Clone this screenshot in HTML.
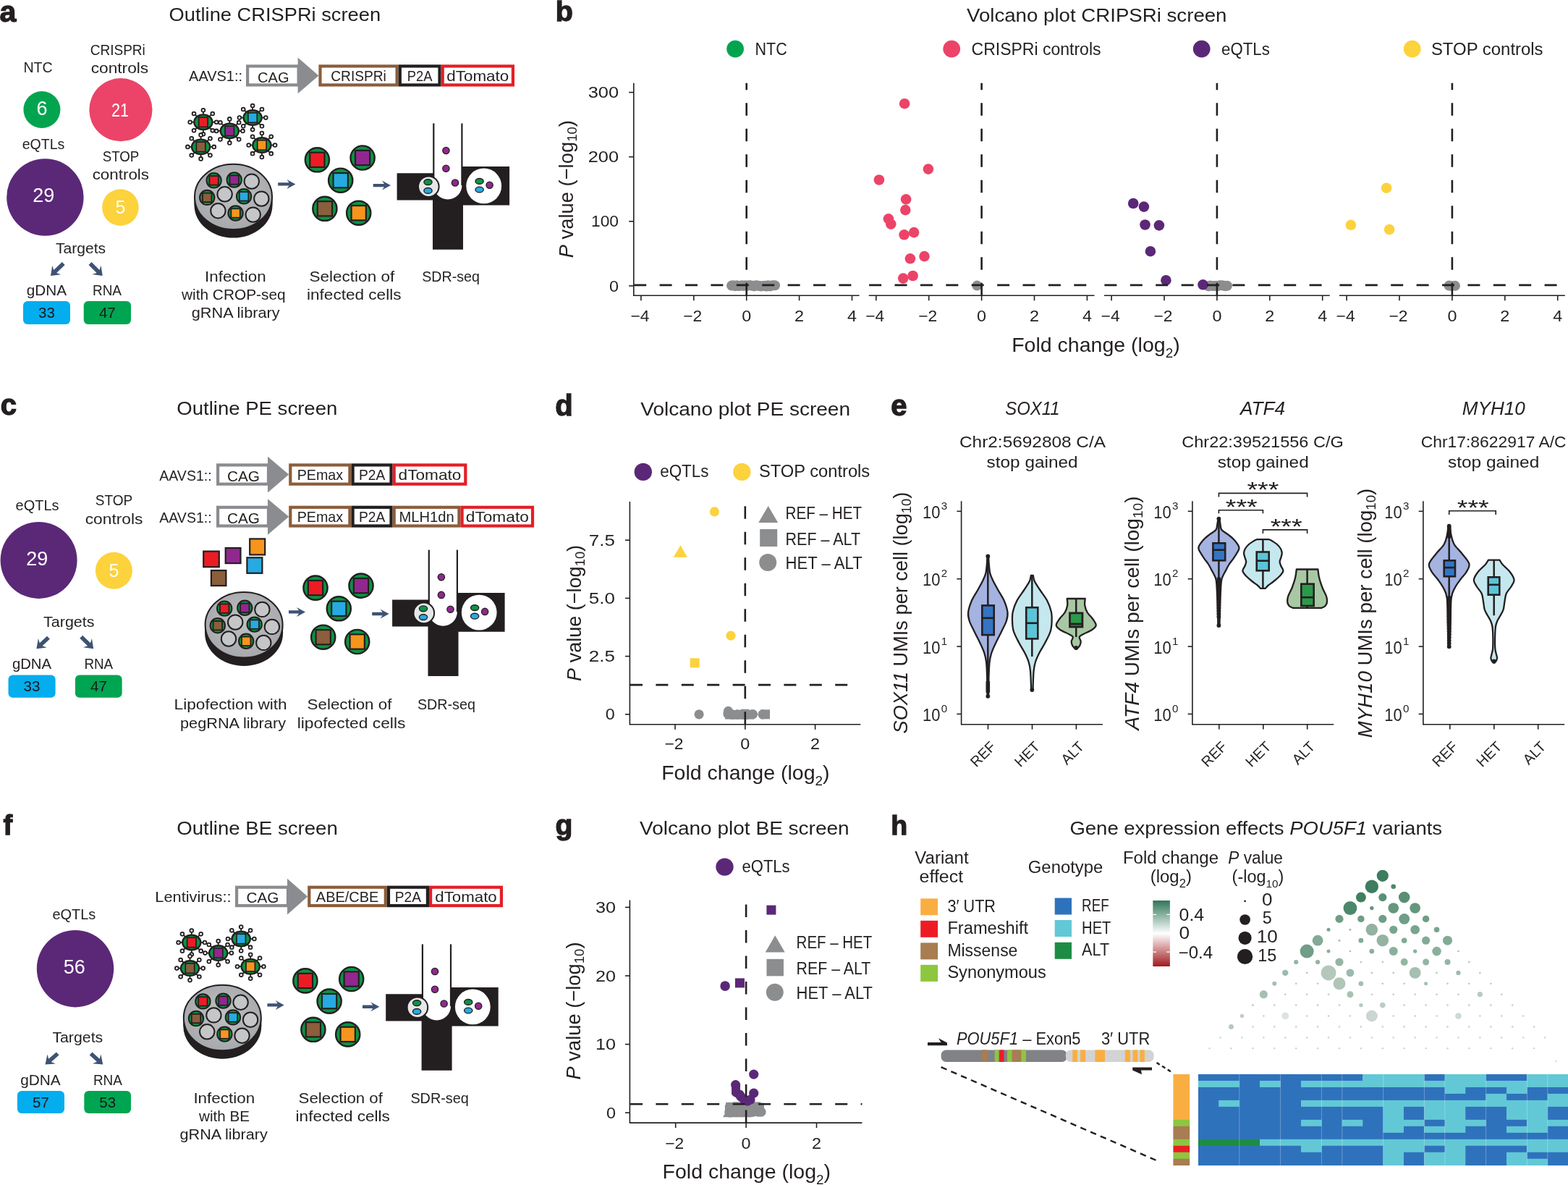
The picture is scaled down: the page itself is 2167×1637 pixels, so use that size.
<!DOCTYPE html>
<html><head><meta charset="utf-8"><title>Figure</title><style>html,body{margin:0;padding:0;background:#fff;overflow:hidden;width:2167px;height:1637px;}svg{display:block;}text{font-family:"Liberation Sans",Arial,sans-serif;}</style></head><body>
<svg width="2167" height="1637" viewBox="0 0 2167 1637" fill="#231f20">
<rect width="2167" height="1637" fill="#ffffff"/>
<defs><radialGradient id="dishg" cx="50%" cy="45%" r="60%"><stop offset="0" stop-color="#bfc1c3"/><stop offset="1" stop-color="#a4a6a9"/></radialGradient><linearGradient id="fcbar" x1="0" y1="0" x2="0" y2="1"><stop offset="0" stop-color="#2f7658"/><stop offset="0.5" stop-color="#ffffff"/><stop offset="1" stop-color="#a11b1d"/></linearGradient></defs>
<text x="-0.5" y="30" font-size="41" font-weight="bold" stroke="#231f20" stroke-width="1.3">a</text>
<text x="233.6" y="29.4" font-size="26.5" textLength="292.5" lengthAdjust="spacingAndGlyphs">Outline CRISPRi screen</text>
<text x="32.4" y="100" font-size="20.5" textLength="40.4" lengthAdjust="spacingAndGlyphs">NTC</text>
<text x="124.8" y="76.3" font-size="20.5" textLength="76" lengthAdjust="spacingAndGlyphs">CRISPRi</text>
<text x="125.7" y="100.8" font-size="20.5" textLength="79.5" lengthAdjust="spacingAndGlyphs">controls</text>
<circle cx="57.9" cy="151.5" r="25.5" fill="#03a44f"/>
<text x="57.9" y="158.9" font-size="27" text-anchor="middle" fill="#ffffff">6</text>
<circle cx="166.9" cy="151.7" r="43.6" fill="#eb4468"/>
<text x="166" y="161" font-size="26" text-anchor="middle" textLength="24" lengthAdjust="spacingAndGlyphs" fill="#ffffff">21</text>
<text x="30.7" y="205.8" font-size="20.5" textLength="58.7" lengthAdjust="spacingAndGlyphs">eQTLs</text>
<circle cx="62.4" cy="272.5" r="53.2" fill="#5b2878"/>
<text x="60.2" y="279.1" font-size="27.5" text-anchor="middle" textLength="30" lengthAdjust="spacingAndGlyphs" fill="#ffffff">29</text>
<text x="141.8" y="222.9" font-size="20.5" textLength="50.5" lengthAdjust="spacingAndGlyphs">STOP</text>
<text x="127.7" y="247.5" font-size="20.5" textLength="78.3" lengthAdjust="spacingAndGlyphs">controls</text>
<circle cx="166.4" cy="286.5" r="25.3" fill="#fcd23d"/>
<text x="166.4" y="295" font-size="25" text-anchor="middle" fill="#ffffff">5</text>
<text x="77" y="349.8" font-size="20.5" textLength="69" lengthAdjust="spacingAndGlyphs">Targets</text>
<polygon points="85.76,361.98 74.28,373.01 72.34,366.83 70,381 84.25,379.24 78.16,377.04 89.64,366.02" fill="#3e5273" />
<polygon points="122.53,365.99 133.6,376.93 127.48,379.03 141.7,381 139.57,366.8 137.53,372.95 126.47,362.01" fill="#3e5273" />
<text x="36.8" y="408" font-size="20.5" textLength="55.2" lengthAdjust="spacingAndGlyphs">gDNA</text>
<text x="128" y="408" font-size="20.5" textLength="40" lengthAdjust="spacingAndGlyphs">RNA</text>
<rect x="32" y="416" width="65" height="32" fill="#03adee" rx="6"/>
<text x="64.5" y="439.3" font-size="20.5" text-anchor="middle" fill="#1a1a1a">33</text>
<rect x="115.7" y="416" width="65.3" height="32" fill="#00a551" rx="6"/>
<text x="148.3" y="439.3" font-size="20.5" text-anchor="middle" fill="#1a1a1a">47</text>
<text x="261.1" y="112" font-size="21" textLength="73.9" lengthAdjust="spacingAndGlyphs">AAVS1::</text>
<rect x="342.1" y="91.4" width="70.5" height="26" fill="#ffffff" stroke="#8a8c8f" stroke-width="4.2"/>
<polygon points="411.6,79.6 440.4,104.4 411.6,129.2" fill="#8a8c8f" />
<text x="377.8" y="113.5" font-size="21" text-anchor="middle" textLength="43.4" lengthAdjust="spacingAndGlyphs">CAG</text>
<rect x="442.5" y="91.4" width="106.1" height="26" fill="#ffffff" stroke="#8b5d3b" stroke-width="4.2"/>
<rect x="552.8" y="91.4" width="54.7" height="26" fill="#ffffff" stroke="#231f20" stroke-width="4.2"/>
<rect x="611.7" y="91.4" width="97.2" height="26" fill="#ffffff" stroke="#e41e26" stroke-width="4.2"/>
<text x="495.55" y="112" font-size="21" text-anchor="middle" textLength="76.6" lengthAdjust="spacingAndGlyphs">CRISPRi</text>
<text x="580.15" y="112" font-size="21" text-anchor="middle" textLength="34.6" lengthAdjust="spacingAndGlyphs">P2A</text>
<text x="660.3" y="112" font-size="21" text-anchor="middle" textLength="86" lengthAdjust="spacingAndGlyphs">dTomato</text>
<line x1="280.9" y1="168.7" x2="298.5" y2="168.7" stroke="#231f20" stroke-width="1.8" />
<line x1="280.9" y1="168.7" x2="293.35" y2="180.01" stroke="#231f20" stroke-width="1.8" />
<line x1="280.9" y1="168.7" x2="280.9" y2="184.7" stroke="#231f20" stroke-width="1.8" />
<line x1="280.9" y1="168.7" x2="268.45" y2="180.01" stroke="#231f20" stroke-width="1.8" />
<line x1="280.9" y1="168.7" x2="263.3" y2="168.7" stroke="#231f20" stroke-width="1.8" />
<line x1="280.9" y1="168.7" x2="268.45" y2="157.39" stroke="#231f20" stroke-width="1.8" />
<line x1="280.9" y1="168.7" x2="280.9" y2="152.7" stroke="#231f20" stroke-width="1.8" />
<line x1="280.9" y1="168.7" x2="293.35" y2="157.39" stroke="#231f20" stroke-width="1.8" />
<circle cx="299.1" cy="168.7" r="2.4" fill="#ffffff" stroke="#231f20" stroke-width="1.8"/>
<circle cx="293.77" cy="180.37" r="2.4" fill="#ffffff" stroke="#231f20" stroke-width="1.8"/>
<circle cx="280.9" cy="185.2" r="2.4" fill="#ffffff" stroke="#231f20" stroke-width="1.8"/>
<circle cx="268.03" cy="180.37" r="2.4" fill="#ffffff" stroke="#231f20" stroke-width="1.8"/>
<circle cx="262.7" cy="168.7" r="2.4" fill="#ffffff" stroke="#231f20" stroke-width="1.8"/>
<circle cx="268.03" cy="157.03" r="2.4" fill="#ffffff" stroke="#231f20" stroke-width="1.8"/>
<circle cx="280.9" cy="152.2" r="2.4" fill="#ffffff" stroke="#231f20" stroke-width="1.8"/>
<circle cx="293.77" cy="157.03" r="2.4" fill="#ffffff" stroke="#231f20" stroke-width="1.8"/>
<ellipse cx="280.9" cy="168.7" rx="12.6" ry="10.3" fill="#0b9444" stroke="#231f20" stroke-width="2.4"/>
<rect x="274.7" y="162" width="12.4" height="13.4" fill="#ec1c24" stroke="#231f20" stroke-width="1.7"/>
<line x1="317.3" y1="180.9" x2="334.9" y2="180.9" stroke="#231f20" stroke-width="1.8" />
<line x1="317.3" y1="180.9" x2="329.75" y2="192.21" stroke="#231f20" stroke-width="1.8" />
<line x1="317.3" y1="180.9" x2="317.3" y2="196.9" stroke="#231f20" stroke-width="1.8" />
<line x1="317.3" y1="180.9" x2="304.85" y2="192.21" stroke="#231f20" stroke-width="1.8" />
<line x1="317.3" y1="180.9" x2="299.7" y2="180.9" stroke="#231f20" stroke-width="1.8" />
<line x1="317.3" y1="180.9" x2="304.85" y2="169.59" stroke="#231f20" stroke-width="1.8" />
<line x1="317.3" y1="180.9" x2="317.3" y2="164.9" stroke="#231f20" stroke-width="1.8" />
<line x1="317.3" y1="180.9" x2="329.75" y2="169.59" stroke="#231f20" stroke-width="1.8" />
<circle cx="335.5" cy="180.9" r="2.4" fill="#ffffff" stroke="#231f20" stroke-width="1.8"/>
<circle cx="330.17" cy="192.57" r="2.4" fill="#ffffff" stroke="#231f20" stroke-width="1.8"/>
<circle cx="317.3" cy="197.4" r="2.4" fill="#ffffff" stroke="#231f20" stroke-width="1.8"/>
<circle cx="304.43" cy="192.57" r="2.4" fill="#ffffff" stroke="#231f20" stroke-width="1.8"/>
<circle cx="299.1" cy="180.9" r="2.4" fill="#ffffff" stroke="#231f20" stroke-width="1.8"/>
<circle cx="304.43" cy="169.23" r="2.4" fill="#ffffff" stroke="#231f20" stroke-width="1.8"/>
<circle cx="317.3" cy="164.4" r="2.4" fill="#ffffff" stroke="#231f20" stroke-width="1.8"/>
<circle cx="330.17" cy="169.23" r="2.4" fill="#ffffff" stroke="#231f20" stroke-width="1.8"/>
<ellipse cx="317.3" cy="180.9" rx="12.6" ry="10.3" fill="#0b9444" stroke="#231f20" stroke-width="2.4"/>
<rect x="311.1" y="174.2" width="12.4" height="13.4" fill="#92278f" stroke="#231f20" stroke-width="1.7"/>
<line x1="349.1" y1="162.6" x2="366.7" y2="162.6" stroke="#231f20" stroke-width="1.8" />
<line x1="349.1" y1="162.6" x2="361.55" y2="173.91" stroke="#231f20" stroke-width="1.8" />
<line x1="349.1" y1="162.6" x2="349.1" y2="178.6" stroke="#231f20" stroke-width="1.8" />
<line x1="349.1" y1="162.6" x2="336.65" y2="173.91" stroke="#231f20" stroke-width="1.8" />
<line x1="349.1" y1="162.6" x2="331.5" y2="162.6" stroke="#231f20" stroke-width="1.8" />
<line x1="349.1" y1="162.6" x2="336.65" y2="151.29" stroke="#231f20" stroke-width="1.8" />
<line x1="349.1" y1="162.6" x2="349.1" y2="146.6" stroke="#231f20" stroke-width="1.8" />
<line x1="349.1" y1="162.6" x2="361.55" y2="151.29" stroke="#231f20" stroke-width="1.8" />
<circle cx="367.3" cy="162.6" r="2.4" fill="#ffffff" stroke="#231f20" stroke-width="1.8"/>
<circle cx="361.97" cy="174.27" r="2.4" fill="#ffffff" stroke="#231f20" stroke-width="1.8"/>
<circle cx="349.1" cy="179.1" r="2.4" fill="#ffffff" stroke="#231f20" stroke-width="1.8"/>
<circle cx="336.23" cy="174.27" r="2.4" fill="#ffffff" stroke="#231f20" stroke-width="1.8"/>
<circle cx="330.9" cy="162.6" r="2.4" fill="#ffffff" stroke="#231f20" stroke-width="1.8"/>
<circle cx="336.23" cy="150.93" r="2.4" fill="#ffffff" stroke="#231f20" stroke-width="1.8"/>
<circle cx="349.1" cy="146.1" r="2.4" fill="#ffffff" stroke="#231f20" stroke-width="1.8"/>
<circle cx="361.97" cy="150.93" r="2.4" fill="#ffffff" stroke="#231f20" stroke-width="1.8"/>
<ellipse cx="349.1" cy="162.6" rx="12.6" ry="10.3" fill="#0b9444" stroke="#231f20" stroke-width="2.4"/>
<rect x="342.9" y="155.9" width="12.4" height="13.4" fill="#27aae1" stroke="#231f20" stroke-width="1.7"/>
<line x1="277.6" y1="202.9" x2="295.2" y2="202.9" stroke="#231f20" stroke-width="1.8" />
<line x1="277.6" y1="202.9" x2="290.05" y2="214.21" stroke="#231f20" stroke-width="1.8" />
<line x1="277.6" y1="202.9" x2="277.6" y2="218.9" stroke="#231f20" stroke-width="1.8" />
<line x1="277.6" y1="202.9" x2="265.15" y2="214.21" stroke="#231f20" stroke-width="1.8" />
<line x1="277.6" y1="202.9" x2="260" y2="202.9" stroke="#231f20" stroke-width="1.8" />
<line x1="277.6" y1="202.9" x2="265.15" y2="191.59" stroke="#231f20" stroke-width="1.8" />
<line x1="277.6" y1="202.9" x2="277.6" y2="186.9" stroke="#231f20" stroke-width="1.8" />
<line x1="277.6" y1="202.9" x2="290.05" y2="191.59" stroke="#231f20" stroke-width="1.8" />
<circle cx="295.8" cy="202.9" r="2.4" fill="#ffffff" stroke="#231f20" stroke-width="1.8"/>
<circle cx="290.47" cy="214.57" r="2.4" fill="#ffffff" stroke="#231f20" stroke-width="1.8"/>
<circle cx="277.6" cy="219.4" r="2.4" fill="#ffffff" stroke="#231f20" stroke-width="1.8"/>
<circle cx="264.73" cy="214.57" r="2.4" fill="#ffffff" stroke="#231f20" stroke-width="1.8"/>
<circle cx="259.4" cy="202.9" r="2.4" fill="#ffffff" stroke="#231f20" stroke-width="1.8"/>
<circle cx="264.73" cy="191.23" r="2.4" fill="#ffffff" stroke="#231f20" stroke-width="1.8"/>
<circle cx="277.6" cy="186.4" r="2.4" fill="#ffffff" stroke="#231f20" stroke-width="1.8"/>
<circle cx="290.47" cy="191.23" r="2.4" fill="#ffffff" stroke="#231f20" stroke-width="1.8"/>
<ellipse cx="277.6" cy="202.9" rx="12.6" ry="10.3" fill="#0b9444" stroke="#231f20" stroke-width="2.4"/>
<rect x="271.4" y="196.2" width="12.4" height="13.4" fill="#8b5e3c" stroke="#231f20" stroke-width="1.7"/>
<line x1="361.9" y1="200.5" x2="379.5" y2="200.5" stroke="#231f20" stroke-width="1.8" />
<line x1="361.9" y1="200.5" x2="374.35" y2="211.81" stroke="#231f20" stroke-width="1.8" />
<line x1="361.9" y1="200.5" x2="361.9" y2="216.5" stroke="#231f20" stroke-width="1.8" />
<line x1="361.9" y1="200.5" x2="349.45" y2="211.81" stroke="#231f20" stroke-width="1.8" />
<line x1="361.9" y1="200.5" x2="344.3" y2="200.5" stroke="#231f20" stroke-width="1.8" />
<line x1="361.9" y1="200.5" x2="349.45" y2="189.19" stroke="#231f20" stroke-width="1.8" />
<line x1="361.9" y1="200.5" x2="361.9" y2="184.5" stroke="#231f20" stroke-width="1.8" />
<line x1="361.9" y1="200.5" x2="374.35" y2="189.19" stroke="#231f20" stroke-width="1.8" />
<circle cx="380.1" cy="200.5" r="2.4" fill="#ffffff" stroke="#231f20" stroke-width="1.8"/>
<circle cx="374.77" cy="212.17" r="2.4" fill="#ffffff" stroke="#231f20" stroke-width="1.8"/>
<circle cx="361.9" cy="217" r="2.4" fill="#ffffff" stroke="#231f20" stroke-width="1.8"/>
<circle cx="349.03" cy="212.17" r="2.4" fill="#ffffff" stroke="#231f20" stroke-width="1.8"/>
<circle cx="343.7" cy="200.5" r="2.4" fill="#ffffff" stroke="#231f20" stroke-width="1.8"/>
<circle cx="349.03" cy="188.83" r="2.4" fill="#ffffff" stroke="#231f20" stroke-width="1.8"/>
<circle cx="361.9" cy="184" r="2.4" fill="#ffffff" stroke="#231f20" stroke-width="1.8"/>
<circle cx="374.77" cy="188.83" r="2.4" fill="#ffffff" stroke="#231f20" stroke-width="1.8"/>
<ellipse cx="361.9" cy="200.5" rx="12.6" ry="10.3" fill="#0b9444" stroke="#231f20" stroke-width="2.4"/>
<rect x="355.7" y="193.8" width="12.4" height="13.4" fill="#f7941d" stroke="#231f20" stroke-width="1.7"/>
<ellipse cx="322.5" cy="283.4" rx="54" ry="45.2" fill="#231f20"/>
<rect x="268.5" y="271.9" width="108" height="11.5" fill="#231f20"/>
<ellipse cx="322.5" cy="271.9" rx="53.5" ry="45.2" fill="url(#dishg)" stroke="#231f20" stroke-width="2"/>
<circle cx="295.6" cy="249.3" r="10.2" fill="#0b9444" stroke="#231f20" stroke-width="2"/>
<rect x="289.38" y="243.08" width="12.44" height="12.44" fill="#ec1c24" stroke="#231f20" stroke-width="1.8"/>
<circle cx="323.7" cy="248.5" r="10.2" fill="#0b9444" stroke="#231f20" stroke-width="2"/>
<rect x="317.48" y="242.28" width="12.44" height="12.44" fill="#92278f" stroke="#231f20" stroke-width="1.8"/>
<circle cx="347.8" cy="250.6" r="10.2" fill="#c4c6c8" stroke="#231f20" stroke-width="2"/>
<circle cx="286.2" cy="272.9" r="10.2" fill="#0b9444" stroke="#231f20" stroke-width="2"/>
<rect x="279.98" y="266.68" width="12.44" height="12.44" fill="#8b5e3c" stroke="#231f20" stroke-width="1.8"/>
<circle cx="310.6" cy="268.3" r="10.2" fill="#c4c6c8" stroke="#231f20" stroke-width="2"/>
<circle cx="337.1" cy="271.3" r="10.2" fill="#0b9444" stroke="#231f20" stroke-width="2"/>
<rect x="330.88" y="265.08" width="12.44" height="12.44" fill="#27aae1" stroke="#231f20" stroke-width="1.8"/>
<circle cx="361.3" cy="274.6" r="10.2" fill="#c4c6c8" stroke="#231f20" stroke-width="2"/>
<circle cx="301.4" cy="291.2" r="10.2" fill="#c4c6c8" stroke="#231f20" stroke-width="2"/>
<circle cx="325.6" cy="294.5" r="10.2" fill="#0b9444" stroke="#231f20" stroke-width="2"/>
<rect x="319.38" y="288.28" width="12.44" height="12.44" fill="#f7941d" stroke="#231f20" stroke-width="1.8"/>
<circle cx="349.7" cy="296.6" r="10.2" fill="#c4c6c8" stroke="#231f20" stroke-width="2"/>
<circle cx="438.4" cy="220.8" r="16.6" fill="#0b9444" stroke="#231f20" stroke-width="2.4"/>
<rect x="428.27" y="210.67" width="20.25" height="20.25" fill="#ec1c24" stroke="#231f20" stroke-width="2.16"/>
<circle cx="501.1" cy="218" r="16.6" fill="#0b9444" stroke="#231f20" stroke-width="2.4"/>
<rect x="490.97" y="207.87" width="20.25" height="20.25" fill="#92278f" stroke="#231f20" stroke-width="2.16"/>
<circle cx="470.7" cy="249.2" r="16.6" fill="#0b9444" stroke="#231f20" stroke-width="2.4"/>
<rect x="460.57" y="239.07" width="20.25" height="20.25" fill="#27aae1" stroke="#231f20" stroke-width="2.16"/>
<circle cx="448.9" cy="288.3" r="16.6" fill="#0b9444" stroke="#231f20" stroke-width="2.4"/>
<rect x="438.77" y="278.17" width="20.25" height="20.25" fill="#8b5e3c" stroke="#231f20" stroke-width="2.16"/>
<circle cx="495.7" cy="294.2" r="16.6" fill="#0b9444" stroke="#231f20" stroke-width="2.4"/>
<rect x="485.57" y="284.07" width="20.25" height="20.25" fill="#f7941d" stroke="#231f20" stroke-width="2.16"/>
<polygon points="384.2,252.2 399.4,252.2 396.4,247.9 408.4,254.4 396.4,260.9 399.4,256.6 384.2,256.6" fill="#3e5273" />
<polygon points="515.7,253.9 531,253.9 528,249.6 540,256.1 528,262.6 531,258.3 515.7,258.3" fill="#3e5273" />
<path d="M548.6,239.2L599.3,239.2L599.3,256A19.55,19.55 0 0 0 638.4,256L638.4,229.9L704.1,229.9L704.1,283.6L640,283.6L640,344.7L598,344.7L598,276.4L548.6,276.4Z" fill="#231f20" />
<line x1="599.3" y1="170.4" x2="599.3" y2="256" stroke="#231f20" stroke-width="2.2" />
<line x1="638.4" y1="170.4" x2="638.4" y2="256" stroke="#231f20" stroke-width="2.2" />
<circle cx="592.3" cy="257.7" r="14.3" fill="#e6e7e8" stroke="#231f20" stroke-width="2"/>
<ellipse cx="591.5" cy="251.6" rx="5.6" ry="3.9" fill="#0b9444" stroke="#231f20" stroke-width="1.4"/>
<ellipse cx="591.5" cy="263.4" rx="5.6" ry="3.9" fill="#27aae1" stroke="#231f20" stroke-width="1.4"/>
<circle cx="668.7" cy="256.9" r="24.4" fill="#ffffff"/>
<ellipse cx="662.6" cy="250.4" rx="5.6" ry="3.9" fill="#0b9444" stroke="#231f20" stroke-width="1.4"/>
<ellipse cx="662.6" cy="262" rx="5.6" ry="3.9" fill="#27aae1" stroke="#231f20" stroke-width="1.4"/>
<circle cx="676.6" cy="255.7" r="4.6" fill="#92278f" stroke="#231f20" stroke-width="1.4"/>
<circle cx="616.4" cy="208" r="4.6" fill="#92278f" stroke="#231f20" stroke-width="1.4"/>
<circle cx="616.4" cy="232.7" r="4.6" fill="#92278f" stroke="#231f20" stroke-width="1.4"/>
<circle cx="629" cy="252.5" r="4.6" fill="#92278f" stroke="#231f20" stroke-width="1.4"/>
<text x="283.1" y="389.4" font-size="20.5" textLength="84.5" lengthAdjust="spacingAndGlyphs">Infection</text>
<text x="251" y="414.3" font-size="20.5" textLength="143.6" lengthAdjust="spacingAndGlyphs">with CROP-seq</text>
<text x="264.8" y="438.9" font-size="20.5" textLength="121.8" lengthAdjust="spacingAndGlyphs">gRNA library</text>
<text x="427.5" y="389.4" font-size="20.5" textLength="117.7" lengthAdjust="spacingAndGlyphs">Selection of</text>
<text x="424" y="414.3" font-size="20.5" textLength="130.5" lengthAdjust="spacingAndGlyphs">infected cells</text>
<text x="583.2" y="389.4" font-size="20.5" textLength="79.7" lengthAdjust="spacingAndGlyphs">SDR-seq</text>
<text x="0.8" y="573" font-size="40" font-weight="bold" stroke="#231f20" stroke-width="1.3">c</text>
<text x="244.3" y="573" font-size="26.5" textLength="222" lengthAdjust="spacingAndGlyphs">Outline PE screen</text>
<text x="21.6" y="704.6" font-size="20.5" textLength="59.9" lengthAdjust="spacingAndGlyphs">eQTLs</text>
<text x="131.7" y="698.3" font-size="20.5" textLength="51.5" lengthAdjust="spacingAndGlyphs">STOP</text>
<text x="117.7" y="723.9" font-size="20.5" textLength="79.7" lengthAdjust="spacingAndGlyphs">controls</text>
<circle cx="53.6" cy="773.9" r="53" fill="#5b2878"/>
<text x="51.3" y="780.5" font-size="27.5" text-anchor="middle" textLength="30" lengthAdjust="spacingAndGlyphs" fill="#ffffff">29</text>
<circle cx="157.4" cy="788.3" r="25.5" fill="#fcd23d"/>
<text x="157.4" y="797" font-size="25" text-anchor="middle" fill="#ffffff">5</text>
<text x="60.1" y="865.5" font-size="20.5" textLength="70.4" lengthAdjust="spacingAndGlyphs">Targets</text>
<polygon points="64.98,878.66 54.77,888.25 52.89,882.06 50.4,896.2 64.67,894.59 58.6,892.34 68.82,882.74" fill="#3e5273" />
<polygon points="110.25,881.71 121.06,892.2 114.96,894.36 129.2,896.2 126.94,882.02 124.96,888.18 114.15,877.69" fill="#3e5273" />
<text x="16.9" y="923.7" font-size="20.5" textLength="54.2" lengthAdjust="spacingAndGlyphs">gDNA</text>
<text x="116.4" y="923.7" font-size="20.5" textLength="39.7" lengthAdjust="spacingAndGlyphs">RNA</text>
<rect x="11.5" y="932.5" width="65.1" height="31.2" fill="#03adee" rx="6"/>
<text x="44" y="955.2" font-size="20.5" text-anchor="middle" fill="#1a1a1a">33</text>
<rect x="103.9" y="932.5" width="64.7" height="31.2" fill="#00a551" rx="6"/>
<text x="136.5" y="955.2" font-size="20.5" text-anchor="middle" fill="#1a1a1a">47</text>
<text x="220.3" y="664.4" font-size="21" textLength="72.3" lengthAdjust="spacingAndGlyphs">AAVS1::</text>
<rect x="301.1" y="642.4" width="69.9" height="26.3" fill="#ffffff" stroke="#8a8c8f" stroke-width="4.2"/>
<polygon points="370,630.7 399.2,655.55 370,680.4" fill="#8a8c8f" />
<text x="336.5" y="664.8" font-size="21" text-anchor="middle" textLength="45" lengthAdjust="spacingAndGlyphs">CAG</text>
<rect x="401.3" y="642.4" width="82.1" height="26.3" fill="#ffffff" stroke="#8b5d3b" stroke-width="4.2"/>
<rect x="487.6" y="642.4" width="52.9" height="26.3" fill="#ffffff" stroke="#231f20" stroke-width="4.2"/>
<rect x="544.7" y="642.4" width="98.6" height="26.3" fill="#ffffff" stroke="#e41e26" stroke-width="4.2"/>
<text x="442.35" y="663.3" font-size="21" text-anchor="middle" textLength="63.4" lengthAdjust="spacingAndGlyphs">PEmax</text>
<text x="514.05" y="663.3" font-size="21" text-anchor="middle" textLength="36.3" lengthAdjust="spacingAndGlyphs">P2A</text>
<text x="594" y="663.3" font-size="21" text-anchor="middle" textLength="86.8" lengthAdjust="spacingAndGlyphs">dTomato</text>
<text x="220.3" y="722" font-size="21" textLength="72.3" lengthAdjust="spacingAndGlyphs">AAVS1::</text>
<rect x="301.1" y="700.8" width="69.9" height="25.7" fill="#ffffff" stroke="#8a8c8f" stroke-width="4.2"/>
<polygon points="370,689.2 399.2,713.65 370,738.7" fill="#8a8c8f" />
<text x="336.5" y="722.6" font-size="21" text-anchor="middle" textLength="45" lengthAdjust="spacingAndGlyphs">CAG</text>
<rect x="401.3" y="700.8" width="82.1" height="25.7" fill="#ffffff" stroke="#8b5d3b" stroke-width="4.2"/>
<rect x="487.6" y="700.8" width="52.9" height="25.7" fill="#ffffff" stroke="#231f20" stroke-width="4.2"/>
<rect x="544.7" y="700.8" width="89.7" height="25.7" fill="#ffffff" stroke="#8b5d3b" stroke-width="4.2"/>
<rect x="638.6" y="700.8" width="97.4" height="25.7" fill="#ffffff" stroke="#e41e26" stroke-width="4.2"/>
<text x="442.35" y="721.1" font-size="21" text-anchor="middle" textLength="63.4" lengthAdjust="spacingAndGlyphs">PEmax</text>
<text x="514.05" y="721.1" font-size="21" text-anchor="middle" textLength="36.3" lengthAdjust="spacingAndGlyphs">P2A</text>
<text x="589.55" y="721.1" font-size="21" text-anchor="middle" textLength="76.2" lengthAdjust="spacingAndGlyphs">MLH1dn</text>
<text x="687.3" y="721.1" font-size="21" text-anchor="middle" textLength="87" lengthAdjust="spacingAndGlyphs">dTomato</text>
<rect x="281.2" y="761.6" width="21.6" height="21.6" fill="#ec1c24" stroke="#231f20" stroke-width="2.2"/>
<rect x="311.7" y="757" width="20.8" height="21.1" fill="#92278f" stroke="#231f20" stroke-width="2.2"/>
<rect x="345.2" y="744.4" width="21" height="22" fill="#f7941d" stroke="#231f20" stroke-width="2.2"/>
<rect x="341.4" y="770.3" width="21" height="21.5" fill="#27aae1" stroke="#231f20" stroke-width="2.2"/>
<rect x="291.9" y="788" width="20.5" height="21.1" fill="#8b5e3c" stroke="#231f20" stroke-width="2.2"/>
<ellipse cx="337.1" cy="874.7" rx="54" ry="45.2" fill="#231f20"/>
<rect x="283.1" y="863.2" width="108" height="11.5" fill="#231f20"/>
<ellipse cx="337.1" cy="863.2" rx="53.5" ry="45.2" fill="url(#dishg)" stroke="#231f20" stroke-width="2"/>
<circle cx="310.2" cy="840.6" r="10.2" fill="#0b9444" stroke="#231f20" stroke-width="2"/>
<rect x="303.98" y="834.38" width="12.44" height="12.44" fill="#ec1c24" stroke="#231f20" stroke-width="1.8"/>
<circle cx="338.3" cy="839.8" r="10.2" fill="#0b9444" stroke="#231f20" stroke-width="2"/>
<rect x="332.08" y="833.58" width="12.44" height="12.44" fill="#92278f" stroke="#231f20" stroke-width="1.8"/>
<circle cx="362.4" cy="841.9" r="10.2" fill="#c4c6c8" stroke="#231f20" stroke-width="2"/>
<circle cx="300.8" cy="864.2" r="10.2" fill="#0b9444" stroke="#231f20" stroke-width="2"/>
<rect x="294.58" y="857.98" width="12.44" height="12.44" fill="#8b5e3c" stroke="#231f20" stroke-width="1.8"/>
<circle cx="325.2" cy="859.6" r="10.2" fill="#c4c6c8" stroke="#231f20" stroke-width="2"/>
<circle cx="351.7" cy="862.6" r="10.2" fill="#0b9444" stroke="#231f20" stroke-width="2"/>
<rect x="345.48" y="856.38" width="12.44" height="12.44" fill="#27aae1" stroke="#231f20" stroke-width="1.8"/>
<circle cx="375.9" cy="865.9" r="10.2" fill="#c4c6c8" stroke="#231f20" stroke-width="2"/>
<circle cx="316" cy="882.5" r="10.2" fill="#c4c6c8" stroke="#231f20" stroke-width="2"/>
<circle cx="340.2" cy="885.8" r="10.2" fill="#0b9444" stroke="#231f20" stroke-width="2"/>
<rect x="333.98" y="879.58" width="12.44" height="12.44" fill="#f7941d" stroke="#231f20" stroke-width="1.8"/>
<circle cx="364.3" cy="887.9" r="10.2" fill="#c4c6c8" stroke="#231f20" stroke-width="2"/>
<circle cx="436" cy="812.1" r="16.6" fill="#0b9444" stroke="#231f20" stroke-width="2.4"/>
<rect x="425.87" y="801.97" width="20.25" height="20.25" fill="#ec1c24" stroke="#231f20" stroke-width="2.16"/>
<circle cx="499" cy="809.1" r="16.6" fill="#0b9444" stroke="#231f20" stroke-width="2.4"/>
<rect x="488.87" y="798.97" width="20.25" height="20.25" fill="#92278f" stroke="#231f20" stroke-width="2.16"/>
<circle cx="468.3" cy="840.8" r="16.6" fill="#0b9444" stroke="#231f20" stroke-width="2.4"/>
<rect x="458.17" y="830.67" width="20.25" height="20.25" fill="#27aae1" stroke="#231f20" stroke-width="2.16"/>
<circle cx="446.7" cy="880.2" r="16.6" fill="#0b9444" stroke="#231f20" stroke-width="2.4"/>
<rect x="436.57" y="870.07" width="20.25" height="20.25" fill="#8b5e3c" stroke="#231f20" stroke-width="2.16"/>
<circle cx="493.7" cy="886.5" r="16.6" fill="#0b9444" stroke="#231f20" stroke-width="2.4"/>
<rect x="483.57" y="876.37" width="20.25" height="20.25" fill="#f7941d" stroke="#231f20" stroke-width="2.16"/>
<polygon points="399,843.2 413,843.2 410,838.9 422,845.4 410,851.9 413,847.6 399,847.6" fill="#3e5273" />
<polygon points="514.2,845.8 528.6,845.8 525.6,841.5 537.6,848 525.6,854.5 528.6,850.2 514.2,850.2" fill="#3e5273" />
<path d="M542.1,828.4L592.8,828.4L592.8,845.2A19.55,19.55 0 0 0 631.9,845.2L631.9,819.1L697.6,819.1L697.6,872.8L633.5,872.8L633.5,933.9L591.5,933.9L591.5,865.6L542.1,865.6Z" fill="#231f20" />
<line x1="592.8" y1="759.6" x2="592.8" y2="845.2" stroke="#231f20" stroke-width="2.2" />
<line x1="631.9" y1="759.6" x2="631.9" y2="845.2" stroke="#231f20" stroke-width="2.2" />
<circle cx="585.8" cy="846.9" r="14.3" fill="#e6e7e8" stroke="#231f20" stroke-width="2"/>
<ellipse cx="585" cy="840.8" rx="5.6" ry="3.9" fill="#0b9444" stroke="#231f20" stroke-width="1.4"/>
<ellipse cx="585" cy="852.6" rx="5.6" ry="3.9" fill="#27aae1" stroke="#231f20" stroke-width="1.4"/>
<circle cx="662.2" cy="846.1" r="24.4" fill="#ffffff"/>
<ellipse cx="656.1" cy="839.6" rx="5.6" ry="3.9" fill="#0b9444" stroke="#231f20" stroke-width="1.4"/>
<ellipse cx="656.1" cy="851.2" rx="5.6" ry="3.9" fill="#27aae1" stroke="#231f20" stroke-width="1.4"/>
<circle cx="670.1" cy="844.9" r="4.6" fill="#92278f" stroke="#231f20" stroke-width="1.4"/>
<circle cx="609.9" cy="797.2" r="4.6" fill="#92278f" stroke="#231f20" stroke-width="1.4"/>
<circle cx="609.9" cy="821.9" r="4.6" fill="#92278f" stroke="#231f20" stroke-width="1.4"/>
<circle cx="622.5" cy="841.7" r="4.6" fill="#92278f" stroke="#231f20" stroke-width="1.4"/>
<text x="240.6" y="980.4" font-size="20.5" textLength="156.1" lengthAdjust="spacingAndGlyphs">Lipofection with</text>
<text x="249" y="1005.8" font-size="20.5" textLength="146" lengthAdjust="spacingAndGlyphs">pegRNA library</text>
<text x="424.6" y="980.4" font-size="20.5" textLength="116.8" lengthAdjust="spacingAndGlyphs">Selection of</text>
<text x="410.7" y="1005.8" font-size="20.5" textLength="149.7" lengthAdjust="spacingAndGlyphs">lipofected cells</text>
<text x="576.9" y="980.4" font-size="20.5" textLength="80" lengthAdjust="spacingAndGlyphs">SDR-seq</text>
<text x="4.5" y="1152.5" font-size="38" font-weight="bold" stroke="#231f20" stroke-width="1.3">f</text>
<text x="244.2" y="1153.2" font-size="26.5" textLength="222.6" lengthAdjust="spacingAndGlyphs">Outline BE screen</text>
<text x="72.4" y="1269.5" font-size="20.5" textLength="59.8" lengthAdjust="spacingAndGlyphs">eQTLs</text>
<circle cx="104" cy="1338.2" r="53.2" fill="#5b2878"/>
<text x="102.8" y="1345" font-size="27" text-anchor="middle" fill="#ffffff">56</text>
<text x="72.4" y="1439.9" font-size="20.5" textLength="69.8" lengthAdjust="spacingAndGlyphs">Targets</text>
<polygon points="77.86,1453.39 67.16,1462.72 65.51,1456.46 62.5,1470.5 76.82,1469.42 70.84,1466.94 81.54,1457.61" fill="#3e5273" />
<polygon points="123.72,1457.58 133.92,1466.79 127.9,1469.17 142.2,1470.5 139.43,1456.41 137.68,1462.64 127.48,1453.42" fill="#3e5273" />
<text x="28.2" y="1498.7" font-size="20.5" textLength="55.5" lengthAdjust="spacingAndGlyphs">gDNA</text>
<text x="128.9" y="1498.7" font-size="20.5" textLength="39.9" lengthAdjust="spacingAndGlyphs">RNA</text>
<rect x="23.9" y="1507" width="65.1" height="30.9" fill="#03adee" rx="6"/>
<text x="56.5" y="1529.6" font-size="20.5" text-anchor="middle" fill="#1a1a1a">57</text>
<rect x="116.3" y="1507" width="64.7" height="30.9" fill="#00a551" rx="6"/>
<text x="148.7" y="1529.6" font-size="20.5" text-anchor="middle" fill="#1a1a1a">53</text>
<text x="214.3" y="1246.2" font-size="21" textLength="105.3" lengthAdjust="spacingAndGlyphs">Lentivirus::</text>
<rect x="327.1" y="1225.7" width="70.9" height="25.4" fill="#ffffff" stroke="#8a8c8f" stroke-width="4.2"/>
<polygon points="397,1213.7 425.2,1238.4 397,1263.5" fill="#8a8c8f" />
<text x="363" y="1247.2" font-size="21" text-anchor="middle" textLength="44.8" lengthAdjust="spacingAndGlyphs">CAG</text>
<rect x="427.3" y="1225.7" width="105.5" height="25.4" fill="#ffffff" stroke="#8b5d3b" stroke-width="4.2"/>
<rect x="537" y="1225.7" width="53.9" height="25.4" fill="#ffffff" stroke="#231f20" stroke-width="4.2"/>
<rect x="595.1" y="1225.7" width="97.8" height="25.4" fill="#ffffff" stroke="#e41e26" stroke-width="4.2"/>
<text x="480.05" y="1245.7" font-size="21" text-anchor="middle" textLength="86.4" lengthAdjust="spacingAndGlyphs">ABE/CBE</text>
<text x="563.95" y="1245.7" font-size="21" text-anchor="middle" textLength="36.2" lengthAdjust="spacingAndGlyphs">P2A</text>
<text x="644" y="1245.7" font-size="21" text-anchor="middle" textLength="85.4" lengthAdjust="spacingAndGlyphs">dTomato</text>
<line x1="264.8" y1="1302" x2="282.4" y2="1302" stroke="#231f20" stroke-width="1.8" />
<line x1="264.8" y1="1302" x2="277.25" y2="1313.31" stroke="#231f20" stroke-width="1.8" />
<line x1="264.8" y1="1302" x2="264.8" y2="1318" stroke="#231f20" stroke-width="1.8" />
<line x1="264.8" y1="1302" x2="252.35" y2="1313.31" stroke="#231f20" stroke-width="1.8" />
<line x1="264.8" y1="1302" x2="247.2" y2="1302" stroke="#231f20" stroke-width="1.8" />
<line x1="264.8" y1="1302" x2="252.35" y2="1290.69" stroke="#231f20" stroke-width="1.8" />
<line x1="264.8" y1="1302" x2="264.8" y2="1286" stroke="#231f20" stroke-width="1.8" />
<line x1="264.8" y1="1302" x2="277.25" y2="1290.69" stroke="#231f20" stroke-width="1.8" />
<circle cx="283" cy="1302" r="2.4" fill="#ffffff" stroke="#231f20" stroke-width="1.8"/>
<circle cx="277.67" cy="1313.67" r="2.4" fill="#ffffff" stroke="#231f20" stroke-width="1.8"/>
<circle cx="264.8" cy="1318.5" r="2.4" fill="#ffffff" stroke="#231f20" stroke-width="1.8"/>
<circle cx="251.93" cy="1313.67" r="2.4" fill="#ffffff" stroke="#231f20" stroke-width="1.8"/>
<circle cx="246.6" cy="1302" r="2.4" fill="#ffffff" stroke="#231f20" stroke-width="1.8"/>
<circle cx="251.93" cy="1290.33" r="2.4" fill="#ffffff" stroke="#231f20" stroke-width="1.8"/>
<circle cx="264.8" cy="1285.5" r="2.4" fill="#ffffff" stroke="#231f20" stroke-width="1.8"/>
<circle cx="277.67" cy="1290.33" r="2.4" fill="#ffffff" stroke="#231f20" stroke-width="1.8"/>
<ellipse cx="264.8" cy="1302" rx="12.6" ry="10.3" fill="#0b9444" stroke="#231f20" stroke-width="2.4"/>
<rect x="258.6" y="1295.3" width="12.4" height="13.4" fill="#ec1c24" stroke="#231f20" stroke-width="1.7"/>
<line x1="301.7" y1="1316.6" x2="319.3" y2="1316.6" stroke="#231f20" stroke-width="1.8" />
<line x1="301.7" y1="1316.6" x2="314.15" y2="1327.91" stroke="#231f20" stroke-width="1.8" />
<line x1="301.7" y1="1316.6" x2="301.7" y2="1332.6" stroke="#231f20" stroke-width="1.8" />
<line x1="301.7" y1="1316.6" x2="289.25" y2="1327.91" stroke="#231f20" stroke-width="1.8" />
<line x1="301.7" y1="1316.6" x2="284.1" y2="1316.6" stroke="#231f20" stroke-width="1.8" />
<line x1="301.7" y1="1316.6" x2="289.25" y2="1305.29" stroke="#231f20" stroke-width="1.8" />
<line x1="301.7" y1="1316.6" x2="301.7" y2="1300.6" stroke="#231f20" stroke-width="1.8" />
<line x1="301.7" y1="1316.6" x2="314.15" y2="1305.29" stroke="#231f20" stroke-width="1.8" />
<circle cx="319.9" cy="1316.6" r="2.4" fill="#ffffff" stroke="#231f20" stroke-width="1.8"/>
<circle cx="314.57" cy="1328.27" r="2.4" fill="#ffffff" stroke="#231f20" stroke-width="1.8"/>
<circle cx="301.7" cy="1333.1" r="2.4" fill="#ffffff" stroke="#231f20" stroke-width="1.8"/>
<circle cx="288.83" cy="1328.27" r="2.4" fill="#ffffff" stroke="#231f20" stroke-width="1.8"/>
<circle cx="283.5" cy="1316.6" r="2.4" fill="#ffffff" stroke="#231f20" stroke-width="1.8"/>
<circle cx="288.83" cy="1304.93" r="2.4" fill="#ffffff" stroke="#231f20" stroke-width="1.8"/>
<circle cx="301.7" cy="1300.1" r="2.4" fill="#ffffff" stroke="#231f20" stroke-width="1.8"/>
<circle cx="314.57" cy="1304.93" r="2.4" fill="#ffffff" stroke="#231f20" stroke-width="1.8"/>
<ellipse cx="301.7" cy="1316.6" rx="12.6" ry="10.3" fill="#0b9444" stroke="#231f20" stroke-width="2.4"/>
<rect x="295.5" y="1309.9" width="12.4" height="13.4" fill="#92278f" stroke="#231f20" stroke-width="1.7"/>
<line x1="333.2" y1="1297" x2="350.8" y2="1297" stroke="#231f20" stroke-width="1.8" />
<line x1="333.2" y1="1297" x2="345.65" y2="1308.31" stroke="#231f20" stroke-width="1.8" />
<line x1="333.2" y1="1297" x2="333.2" y2="1313" stroke="#231f20" stroke-width="1.8" />
<line x1="333.2" y1="1297" x2="320.75" y2="1308.31" stroke="#231f20" stroke-width="1.8" />
<line x1="333.2" y1="1297" x2="315.6" y2="1297" stroke="#231f20" stroke-width="1.8" />
<line x1="333.2" y1="1297" x2="320.75" y2="1285.69" stroke="#231f20" stroke-width="1.8" />
<line x1="333.2" y1="1297" x2="333.2" y2="1281" stroke="#231f20" stroke-width="1.8" />
<line x1="333.2" y1="1297" x2="345.65" y2="1285.69" stroke="#231f20" stroke-width="1.8" />
<circle cx="351.4" cy="1297" r="2.4" fill="#ffffff" stroke="#231f20" stroke-width="1.8"/>
<circle cx="346.07" cy="1308.67" r="2.4" fill="#ffffff" stroke="#231f20" stroke-width="1.8"/>
<circle cx="333.2" cy="1313.5" r="2.4" fill="#ffffff" stroke="#231f20" stroke-width="1.8"/>
<circle cx="320.33" cy="1308.67" r="2.4" fill="#ffffff" stroke="#231f20" stroke-width="1.8"/>
<circle cx="315" cy="1297" r="2.4" fill="#ffffff" stroke="#231f20" stroke-width="1.8"/>
<circle cx="320.33" cy="1285.33" r="2.4" fill="#ffffff" stroke="#231f20" stroke-width="1.8"/>
<circle cx="333.2" cy="1280.5" r="2.4" fill="#ffffff" stroke="#231f20" stroke-width="1.8"/>
<circle cx="346.07" cy="1285.33" r="2.4" fill="#ffffff" stroke="#231f20" stroke-width="1.8"/>
<ellipse cx="333.2" cy="1297" rx="12.6" ry="10.3" fill="#0b9444" stroke="#231f20" stroke-width="2.4"/>
<rect x="327" y="1290.3" width="12.4" height="13.4" fill="#27aae1" stroke="#231f20" stroke-width="1.7"/>
<line x1="262.5" y1="1337.6" x2="280.1" y2="1337.6" stroke="#231f20" stroke-width="1.8" />
<line x1="262.5" y1="1337.6" x2="274.95" y2="1348.91" stroke="#231f20" stroke-width="1.8" />
<line x1="262.5" y1="1337.6" x2="262.5" y2="1353.6" stroke="#231f20" stroke-width="1.8" />
<line x1="262.5" y1="1337.6" x2="250.05" y2="1348.91" stroke="#231f20" stroke-width="1.8" />
<line x1="262.5" y1="1337.6" x2="244.9" y2="1337.6" stroke="#231f20" stroke-width="1.8" />
<line x1="262.5" y1="1337.6" x2="250.05" y2="1326.29" stroke="#231f20" stroke-width="1.8" />
<line x1="262.5" y1="1337.6" x2="262.5" y2="1321.6" stroke="#231f20" stroke-width="1.8" />
<line x1="262.5" y1="1337.6" x2="274.95" y2="1326.29" stroke="#231f20" stroke-width="1.8" />
<circle cx="280.7" cy="1337.6" r="2.4" fill="#ffffff" stroke="#231f20" stroke-width="1.8"/>
<circle cx="275.37" cy="1349.27" r="2.4" fill="#ffffff" stroke="#231f20" stroke-width="1.8"/>
<circle cx="262.5" cy="1354.1" r="2.4" fill="#ffffff" stroke="#231f20" stroke-width="1.8"/>
<circle cx="249.63" cy="1349.27" r="2.4" fill="#ffffff" stroke="#231f20" stroke-width="1.8"/>
<circle cx="244.3" cy="1337.6" r="2.4" fill="#ffffff" stroke="#231f20" stroke-width="1.8"/>
<circle cx="249.63" cy="1325.93" r="2.4" fill="#ffffff" stroke="#231f20" stroke-width="1.8"/>
<circle cx="262.5" cy="1321.1" r="2.4" fill="#ffffff" stroke="#231f20" stroke-width="1.8"/>
<circle cx="275.37" cy="1325.93" r="2.4" fill="#ffffff" stroke="#231f20" stroke-width="1.8"/>
<ellipse cx="262.5" cy="1337.6" rx="12.6" ry="10.3" fill="#0b9444" stroke="#231f20" stroke-width="2.4"/>
<rect x="256.3" y="1330.9" width="12.4" height="13.4" fill="#8b5e3c" stroke="#231f20" stroke-width="1.7"/>
<line x1="346.2" y1="1335.2" x2="363.8" y2="1335.2" stroke="#231f20" stroke-width="1.8" />
<line x1="346.2" y1="1335.2" x2="358.65" y2="1346.51" stroke="#231f20" stroke-width="1.8" />
<line x1="346.2" y1="1335.2" x2="346.2" y2="1351.2" stroke="#231f20" stroke-width="1.8" />
<line x1="346.2" y1="1335.2" x2="333.75" y2="1346.51" stroke="#231f20" stroke-width="1.8" />
<line x1="346.2" y1="1335.2" x2="328.6" y2="1335.2" stroke="#231f20" stroke-width="1.8" />
<line x1="346.2" y1="1335.2" x2="333.75" y2="1323.89" stroke="#231f20" stroke-width="1.8" />
<line x1="346.2" y1="1335.2" x2="346.2" y2="1319.2" stroke="#231f20" stroke-width="1.8" />
<line x1="346.2" y1="1335.2" x2="358.65" y2="1323.89" stroke="#231f20" stroke-width="1.8" />
<circle cx="364.4" cy="1335.2" r="2.4" fill="#ffffff" stroke="#231f20" stroke-width="1.8"/>
<circle cx="359.07" cy="1346.87" r="2.4" fill="#ffffff" stroke="#231f20" stroke-width="1.8"/>
<circle cx="346.2" cy="1351.7" r="2.4" fill="#ffffff" stroke="#231f20" stroke-width="1.8"/>
<circle cx="333.33" cy="1346.87" r="2.4" fill="#ffffff" stroke="#231f20" stroke-width="1.8"/>
<circle cx="328" cy="1335.2" r="2.4" fill="#ffffff" stroke="#231f20" stroke-width="1.8"/>
<circle cx="333.33" cy="1323.53" r="2.4" fill="#ffffff" stroke="#231f20" stroke-width="1.8"/>
<circle cx="346.2" cy="1318.7" r="2.4" fill="#ffffff" stroke="#231f20" stroke-width="1.8"/>
<circle cx="359.07" cy="1323.53" r="2.4" fill="#ffffff" stroke="#231f20" stroke-width="1.8"/>
<ellipse cx="346.2" cy="1335.2" rx="12.6" ry="10.3" fill="#0b9444" stroke="#231f20" stroke-width="2.4"/>
<rect x="340" y="1328.5" width="12.4" height="13.4" fill="#f7941d" stroke="#231f20" stroke-width="1.7"/>
<ellipse cx="307.3" cy="1417.5" rx="54" ry="45.2" fill="#231f20"/>
<rect x="253.3" y="1406" width="108" height="11.5" fill="#231f20"/>
<ellipse cx="307.3" cy="1406" rx="53.5" ry="45.2" fill="url(#dishg)" stroke="#231f20" stroke-width="2"/>
<circle cx="280.4" cy="1383.4" r="10.2" fill="#0b9444" stroke="#231f20" stroke-width="2"/>
<rect x="274.18" y="1377.18" width="12.44" height="12.44" fill="#ec1c24" stroke="#231f20" stroke-width="1.8"/>
<circle cx="308.5" cy="1382.6" r="10.2" fill="#0b9444" stroke="#231f20" stroke-width="2"/>
<rect x="302.28" y="1376.38" width="12.44" height="12.44" fill="#92278f" stroke="#231f20" stroke-width="1.8"/>
<circle cx="332.6" cy="1384.7" r="10.2" fill="#c4c6c8" stroke="#231f20" stroke-width="2"/>
<circle cx="271" cy="1407" r="10.2" fill="#0b9444" stroke="#231f20" stroke-width="2"/>
<rect x="264.78" y="1400.78" width="12.44" height="12.44" fill="#8b5e3c" stroke="#231f20" stroke-width="1.8"/>
<circle cx="295.4" cy="1402.4" r="10.2" fill="#c4c6c8" stroke="#231f20" stroke-width="2"/>
<circle cx="321.9" cy="1405.4" r="10.2" fill="#0b9444" stroke="#231f20" stroke-width="2"/>
<rect x="315.68" y="1399.18" width="12.44" height="12.44" fill="#27aae1" stroke="#231f20" stroke-width="1.8"/>
<circle cx="346.1" cy="1408.7" r="10.2" fill="#c4c6c8" stroke="#231f20" stroke-width="2"/>
<circle cx="286.2" cy="1425.3" r="10.2" fill="#c4c6c8" stroke="#231f20" stroke-width="2"/>
<circle cx="310.4" cy="1428.6" r="10.2" fill="#0b9444" stroke="#231f20" stroke-width="2"/>
<rect x="304.18" y="1422.38" width="12.44" height="12.44" fill="#f7941d" stroke="#231f20" stroke-width="1.8"/>
<circle cx="334.5" cy="1430.7" r="10.2" fill="#c4c6c8" stroke="#231f20" stroke-width="2"/>
<circle cx="421.9" cy="1354.9" r="16.6" fill="#0b9444" stroke="#231f20" stroke-width="2.4"/>
<rect x="411.77" y="1344.77" width="20.25" height="20.25" fill="#ec1c24" stroke="#231f20" stroke-width="2.16"/>
<circle cx="485.7" cy="1352.5" r="16.6" fill="#0b9444" stroke="#231f20" stroke-width="2.4"/>
<rect x="475.57" y="1342.37" width="20.25" height="20.25" fill="#92278f" stroke="#231f20" stroke-width="2.16"/>
<circle cx="455.1" cy="1383.1" r="16.6" fill="#0b9444" stroke="#231f20" stroke-width="2.4"/>
<rect x="444.97" y="1372.97" width="20.25" height="20.25" fill="#27aae1" stroke="#231f20" stroke-width="2.16"/>
<circle cx="432.9" cy="1422.3" r="16.6" fill="#0b9444" stroke="#231f20" stroke-width="2.4"/>
<rect x="422.77" y="1412.17" width="20.25" height="20.25" fill="#8b5e3c" stroke="#231f20" stroke-width="2.16"/>
<circle cx="480.7" cy="1428.9" r="16.6" fill="#0b9444" stroke="#231f20" stroke-width="2.4"/>
<rect x="470.57" y="1418.77" width="20.25" height="20.25" fill="#f7941d" stroke="#231f20" stroke-width="2.16"/>
<polygon points="369.4,1386.2 383.7,1386.2 380.7,1381.9 392.7,1388.4 380.7,1394.9 383.7,1390.6 369.4,1390.6" fill="#3e5273" />
<polygon points="501,1388.5 515.3,1388.5 512.3,1384.2 524.3,1390.7 512.3,1397.2 515.3,1392.9 501,1392.9" fill="#3e5273" />
<path d="M533.2,1373.2L583.9,1373.2L583.9,1390A19.55,19.55 0 0 0 623,1390L623,1363.9L688.7,1363.9L688.7,1417.6L624.6,1417.6L624.6,1478.7L582.6,1478.7L582.6,1410.4L533.2,1410.4Z" fill="#231f20" />
<line x1="583.9" y1="1304.4" x2="583.9" y2="1390" stroke="#231f20" stroke-width="2.2" />
<line x1="623" y1="1304.4" x2="623" y2="1390" stroke="#231f20" stroke-width="2.2" />
<circle cx="576.9" cy="1391.7" r="14.3" fill="#e6e7e8" stroke="#231f20" stroke-width="2"/>
<ellipse cx="576.1" cy="1385.6" rx="5.6" ry="3.9" fill="#0b9444" stroke="#231f20" stroke-width="1.4"/>
<ellipse cx="576.1" cy="1397.4" rx="5.6" ry="3.9" fill="#27aae1" stroke="#231f20" stroke-width="1.4"/>
<circle cx="653.3" cy="1390.9" r="24.4" fill="#ffffff"/>
<ellipse cx="647.2" cy="1384.4" rx="5.6" ry="3.9" fill="#0b9444" stroke="#231f20" stroke-width="1.4"/>
<ellipse cx="647.2" cy="1396" rx="5.6" ry="3.9" fill="#27aae1" stroke="#231f20" stroke-width="1.4"/>
<circle cx="661.2" cy="1389.7" r="4.6" fill="#92278f" stroke="#231f20" stroke-width="1.4"/>
<circle cx="601" cy="1342" r="4.6" fill="#92278f" stroke="#231f20" stroke-width="1.4"/>
<circle cx="601" cy="1366.7" r="4.6" fill="#92278f" stroke="#231f20" stroke-width="1.4"/>
<circle cx="613.6" cy="1386.5" r="4.6" fill="#92278f" stroke="#231f20" stroke-width="1.4"/>
<text x="267.4" y="1523.6" font-size="20.5" textLength="84.8" lengthAdjust="spacingAndGlyphs">Infection</text>
<text x="275" y="1548.5" font-size="20.5" textLength="70" lengthAdjust="spacingAndGlyphs">with BE</text>
<text x="248.5" y="1573.5" font-size="20.5" textLength="121.3" lengthAdjust="spacingAndGlyphs">gRNA library</text>
<text x="412.6" y="1523.6" font-size="20.5" textLength="116.3" lengthAdjust="spacingAndGlyphs">Selection of</text>
<text x="408.6" y="1548.5" font-size="20.5" textLength="130.3" lengthAdjust="spacingAndGlyphs">infected cells</text>
<text x="567.4" y="1523.6" font-size="20.5" textLength="80.4" lengthAdjust="spacingAndGlyphs">SDR-seq</text>
<text x="767.8" y="28.8" font-size="39.5" font-weight="bold" stroke="#231f20" stroke-width="1.3">b</text>
<text x="1336" y="29.5" font-size="26.5" textLength="359.5" lengthAdjust="spacingAndGlyphs">Volcano plot CRIPSRi screen</text>
<circle cx="1016.1" cy="67.6" r="11.9" fill="#03a44f"/>
<text x="1043.6" y="75.7" font-size="23" textLength="44.2" lengthAdjust="spacingAndGlyphs">NTC</text>
<circle cx="1315.2" cy="67.6" r="11.9" fill="#eb4468"/>
<text x="1342.6" y="75.7" font-size="23" textLength="178.9" lengthAdjust="spacingAndGlyphs">CRISPRi controls</text>
<circle cx="1660.7" cy="67.6" r="11.9" fill="#5b2878"/>
<text x="1688" y="75.7" font-size="23" textLength="66.8" lengthAdjust="spacingAndGlyphs">eQTLs</text>
<circle cx="1951.7" cy="67.6" r="11.9" fill="#fcd23d"/>
<text x="1977.9" y="75.7" font-size="23" textLength="154.7" lengthAdjust="spacingAndGlyphs">STOP controls</text>
<line x1="875.8" y1="114.8" x2="875.8" y2="409.05" stroke="#231f20" stroke-width="1.6" />
<line x1="869.2" y1="394.9" x2="875.8" y2="394.9" stroke="#231f20" stroke-width="1.6" />
<text x="855" y="402.5" font-size="21.5" text-anchor="end" textLength="13" lengthAdjust="spacingAndGlyphs">0</text>
<line x1="869.2" y1="305.8" x2="875.8" y2="305.8" stroke="#231f20" stroke-width="1.6" />
<text x="855" y="313.4" font-size="21.5" text-anchor="end" textLength="38" lengthAdjust="spacingAndGlyphs">100</text>
<line x1="869.2" y1="216.7" x2="875.8" y2="216.7" stroke="#231f20" stroke-width="1.6" />
<text x="855" y="224.3" font-size="21.5" text-anchor="end" textLength="42.3" lengthAdjust="spacingAndGlyphs">200</text>
<line x1="869.2" y1="127.6" x2="875.8" y2="127.6" stroke="#231f20" stroke-width="1.6" />
<text x="855" y="135.2" font-size="21.5" text-anchor="end" textLength="42.3" lengthAdjust="spacingAndGlyphs">300</text>
<line x1="875.8" y1="408.3" x2="1187.6" y2="408.3" stroke="#231f20" stroke-width="1.6" />
<line x1="885.9" y1="408.3" x2="885.9" y2="415.3" stroke="#231f20" stroke-width="1.6" />
<text x="884.4" y="444" font-size="21.5" text-anchor="middle" textLength="26" lengthAdjust="spacingAndGlyphs">−4</text>
<line x1="958.8" y1="408.3" x2="958.8" y2="415.3" stroke="#231f20" stroke-width="1.6" />
<text x="957.3" y="444" font-size="21.5" text-anchor="middle" textLength="26" lengthAdjust="spacingAndGlyphs">−2</text>
<line x1="1031.7" y1="408.3" x2="1031.7" y2="415.3" stroke="#231f20" stroke-width="1.6" />
<text x="1031.7" y="444" font-size="21.5" text-anchor="middle" textLength="13" lengthAdjust="spacingAndGlyphs">0</text>
<line x1="1104.6" y1="408.3" x2="1104.6" y2="415.3" stroke="#231f20" stroke-width="1.6" />
<text x="1104.6" y="444" font-size="21.5" text-anchor="middle" textLength="13" lengthAdjust="spacingAndGlyphs">2</text>
<line x1="1177.5" y1="408.3" x2="1177.5" y2="415.3" stroke="#231f20" stroke-width="1.6" />
<text x="1177.5" y="444" font-size="21.5" text-anchor="middle" textLength="13" lengthAdjust="spacingAndGlyphs">4</text>
<line x1="1200.7" y1="408.3" x2="1512.5" y2="408.3" stroke="#231f20" stroke-width="1.6" />
<line x1="1210.8" y1="408.3" x2="1210.8" y2="415.3" stroke="#231f20" stroke-width="1.6" />
<text x="1209.3" y="444" font-size="21.5" text-anchor="middle" textLength="26" lengthAdjust="spacingAndGlyphs">−4</text>
<line x1="1283.7" y1="408.3" x2="1283.7" y2="415.3" stroke="#231f20" stroke-width="1.6" />
<text x="1282.2" y="444" font-size="21.5" text-anchor="middle" textLength="26" lengthAdjust="spacingAndGlyphs">−2</text>
<line x1="1356.6" y1="408.3" x2="1356.6" y2="415.3" stroke="#231f20" stroke-width="1.6" />
<text x="1356.6" y="444" font-size="21.5" text-anchor="middle" textLength="13" lengthAdjust="spacingAndGlyphs">0</text>
<line x1="1429.5" y1="408.3" x2="1429.5" y2="415.3" stroke="#231f20" stroke-width="1.6" />
<text x="1429.5" y="444" font-size="21.5" text-anchor="middle" textLength="13" lengthAdjust="spacingAndGlyphs">2</text>
<line x1="1502.4" y1="408.3" x2="1502.4" y2="415.3" stroke="#231f20" stroke-width="1.6" />
<text x="1502.4" y="444" font-size="21.5" text-anchor="middle" textLength="13" lengthAdjust="spacingAndGlyphs">4</text>
<line x1="1526" y1="408.3" x2="1837.8" y2="408.3" stroke="#231f20" stroke-width="1.6" />
<line x1="1536.1" y1="408.3" x2="1536.1" y2="415.3" stroke="#231f20" stroke-width="1.6" />
<text x="1534.6" y="444" font-size="21.5" text-anchor="middle" textLength="26" lengthAdjust="spacingAndGlyphs">−4</text>
<line x1="1609" y1="408.3" x2="1609" y2="415.3" stroke="#231f20" stroke-width="1.6" />
<text x="1607.5" y="444" font-size="21.5" text-anchor="middle" textLength="26" lengthAdjust="spacingAndGlyphs">−2</text>
<line x1="1681.9" y1="408.3" x2="1681.9" y2="415.3" stroke="#231f20" stroke-width="1.6" />
<text x="1681.9" y="444" font-size="21.5" text-anchor="middle" textLength="13" lengthAdjust="spacingAndGlyphs">0</text>
<line x1="1754.8" y1="408.3" x2="1754.8" y2="415.3" stroke="#231f20" stroke-width="1.6" />
<text x="1754.8" y="444" font-size="21.5" text-anchor="middle" textLength="13" lengthAdjust="spacingAndGlyphs">2</text>
<line x1="1827.7" y1="408.3" x2="1827.7" y2="415.3" stroke="#231f20" stroke-width="1.6" />
<text x="1827.7" y="444" font-size="21.5" text-anchor="middle" textLength="13" lengthAdjust="spacingAndGlyphs">4</text>
<line x1="1851" y1="408.3" x2="2162.8" y2="408.3" stroke="#231f20" stroke-width="1.6" />
<line x1="1861.1" y1="408.3" x2="1861.1" y2="415.3" stroke="#231f20" stroke-width="1.6" />
<text x="1859.6" y="444" font-size="21.5" text-anchor="middle" textLength="26" lengthAdjust="spacingAndGlyphs">−4</text>
<line x1="1934" y1="408.3" x2="1934" y2="415.3" stroke="#231f20" stroke-width="1.6" />
<text x="1932.5" y="444" font-size="21.5" text-anchor="middle" textLength="26" lengthAdjust="spacingAndGlyphs">−2</text>
<line x1="2006.9" y1="408.3" x2="2006.9" y2="415.3" stroke="#231f20" stroke-width="1.6" />
<text x="2006.9" y="444" font-size="21.5" text-anchor="middle" textLength="13" lengthAdjust="spacingAndGlyphs">0</text>
<line x1="2079.8" y1="408.3" x2="2079.8" y2="415.3" stroke="#231f20" stroke-width="1.6" />
<text x="2079.8" y="444" font-size="21.5" text-anchor="middle" textLength="13" lengthAdjust="spacingAndGlyphs">2</text>
<line x1="2152.7" y1="408.3" x2="2152.7" y2="415.3" stroke="#231f20" stroke-width="1.6" />
<text x="2152.7" y="444" font-size="21.5" text-anchor="middle" textLength="13" lengthAdjust="spacingAndGlyphs">4</text>
<circle cx="1011" cy="394.62" r="7" fill="#8c8d8f"/>
<circle cx="1013.4" cy="394.34" r="7" fill="#8c8d8f"/>
<circle cx="1015.8" cy="395.14" r="7" fill="#8c8d8f"/>
<circle cx="1018.2" cy="394.22" r="7" fill="#8c8d8f"/>
<circle cx="1020.6" cy="394.96" r="7" fill="#8c8d8f"/>
<circle cx="1023" cy="394.69" r="7" fill="#8c8d8f"/>
<circle cx="1025.4" cy="394.19" r="7" fill="#8c8d8f"/>
<circle cx="1027.8" cy="394.91" r="7" fill="#8c8d8f"/>
<circle cx="1030.2" cy="394.16" r="7" fill="#8c8d8f"/>
<circle cx="1032.6" cy="394.79" r="7" fill="#8c8d8f"/>
<circle cx="1035" cy="394.21" r="7" fill="#8c8d8f"/>
<circle cx="1037.4" cy="394.25" r="7" fill="#8c8d8f"/>
<circle cx="1039.8" cy="394.78" r="7" fill="#8c8d8f"/>
<circle cx="1042.2" cy="395.42" r="7" fill="#8c8d8f"/>
<circle cx="1044.6" cy="394.3" r="7" fill="#8c8d8f"/>
<circle cx="1047" cy="394.46" r="7" fill="#8c8d8f"/>
<circle cx="1049.4" cy="395.1" r="7" fill="#8c8d8f"/>
<circle cx="1051.8" cy="395.62" r="7" fill="#8c8d8f"/>
<circle cx="1054.2" cy="395.02" r="7" fill="#8c8d8f"/>
<circle cx="1056.6" cy="394.73" r="7" fill="#8c8d8f"/>
<circle cx="1059" cy="395.66" r="7" fill="#8c8d8f"/>
<circle cx="1061.4" cy="394.17" r="7" fill="#8c8d8f"/>
<circle cx="1063.8" cy="395.47" r="7" fill="#8c8d8f"/>
<circle cx="1066.2" cy="394.56" r="7" fill="#8c8d8f"/>
<circle cx="1068.6" cy="394.33" r="7" fill="#8c8d8f"/>
<circle cx="1071" cy="394.29" r="7" fill="#8c8d8f"/>
<circle cx="1350.3" cy="394.59" r="7" fill="#8c8d8f"/>
<circle cx="1670" cy="395.41" r="7" fill="#8c8d8f"/>
<circle cx="1672.6" cy="394.39" r="7" fill="#8c8d8f"/>
<circle cx="1675.2" cy="395.03" r="7" fill="#8c8d8f"/>
<circle cx="1677.8" cy="395.12" r="7" fill="#8c8d8f"/>
<circle cx="1680.4" cy="394.7" r="7" fill="#8c8d8f"/>
<circle cx="1683" cy="394.98" r="7" fill="#8c8d8f"/>
<circle cx="1685.6" cy="394.2" r="7" fill="#8c8d8f"/>
<circle cx="1688.2" cy="394.2" r="7" fill="#8c8d8f"/>
<circle cx="1690.8" cy="394.43" r="7" fill="#8c8d8f"/>
<circle cx="1693.4" cy="395.19" r="7" fill="#8c8d8f"/>
<circle cx="1696" cy="394.78" r="7" fill="#8c8d8f"/>
<circle cx="2002.5" cy="394.6" r="7" fill="#8c8d8f"/>
<circle cx="2006" cy="395.04" r="7" fill="#8c8d8f"/>
<circle cx="2011" cy="394.83" r="7" fill="#8c8d8f"/>
<circle cx="1250.1" cy="143.2" r="7.3" fill="#eb4468"/>
<circle cx="1282.9" cy="233.6" r="7.3" fill="#eb4468"/>
<circle cx="1214.9" cy="248.5" r="7.3" fill="#eb4468"/>
<circle cx="1252.1" cy="275.4" r="7.3" fill="#eb4468"/>
<circle cx="1251.3" cy="290.1" r="7.3" fill="#eb4468"/>
<circle cx="1227.9" cy="302.3" r="7.3" fill="#eb4468"/>
<circle cx="1231.3" cy="309.6" r="7.3" fill="#eb4468"/>
<circle cx="1263.1" cy="321.1" r="7.3" fill="#eb4468"/>
<circle cx="1249.6" cy="324.3" r="7.3" fill="#eb4468"/>
<circle cx="1257.9" cy="357.3" r="7.3" fill="#eb4468"/>
<circle cx="1277.5" cy="354.1" r="7.3" fill="#eb4468"/>
<circle cx="1261.6" cy="381" r="7.3" fill="#eb4468"/>
<circle cx="1248.2" cy="384.6" r="7.3" fill="#eb4468"/>
<circle cx="1566.2" cy="281" r="7.3" fill="#5b2878"/>
<circle cx="1580.9" cy="285.6" r="7.3" fill="#5b2878"/>
<circle cx="1582.5" cy="310.5" r="7.3" fill="#5b2878"/>
<circle cx="1601.9" cy="311.4" r="7.3" fill="#5b2878"/>
<circle cx="1589.9" cy="347.2" r="7.3" fill="#5b2878"/>
<circle cx="1611.4" cy="387.2" r="7.3" fill="#5b2878"/>
<circle cx="1662.5" cy="393.3" r="7.3" fill="#5b2878"/>
<circle cx="1916.1" cy="259.7" r="7.3" fill="#fcd23d"/>
<circle cx="1866.9" cy="310.8" r="7.3" fill="#fcd23d"/>
<circle cx="1920.1" cy="317" r="7.3" fill="#fcd23d"/>
<line x1="1031.7" y1="408.3" x2="1031.7" y2="114.8" stroke="#231f20" stroke-width="2.6" stroke-dasharray="17.6 17.9"/>
<line x1="876.2" y1="393.9" x2="1187.6" y2="393.9" stroke="#231f20" stroke-width="2.6" stroke-dasharray="17 18.4"/>
<line x1="1356.6" y1="408.3" x2="1356.6" y2="114.8" stroke="#231f20" stroke-width="2.6" stroke-dasharray="17.6 17.9"/>
<line x1="1201.1" y1="393.9" x2="1512.5" y2="393.9" stroke="#231f20" stroke-width="2.6" stroke-dasharray="17 18.4"/>
<line x1="1681.9" y1="408.3" x2="1681.9" y2="114.8" stroke="#231f20" stroke-width="2.6" stroke-dasharray="17.6 17.9"/>
<line x1="1526.4" y1="393.9" x2="1837.8" y2="393.9" stroke="#231f20" stroke-width="2.6" stroke-dasharray="17 18.4"/>
<line x1="2006.9" y1="408.3" x2="2006.9" y2="114.8" stroke="#231f20" stroke-width="2.6" stroke-dasharray="17.6 17.9"/>
<line x1="1851.4" y1="393.9" x2="2162.8" y2="393.9" stroke="#231f20" stroke-width="2.6" stroke-dasharray="17 18.4"/>
<text x="791.6" y="356.3" font-size="28" textLength="190.2" lengthAdjust="spacingAndGlyphs" transform="rotate(-90 791.6 356.3)"><tspan font-style="italic">P</tspan> value (−log<tspan font-size="19" dy="5">10</tspan><tspan dy="-5">)</tspan></text>
<text x="1398.2" y="486" font-size="28" textLength="232.5" lengthAdjust="spacingAndGlyphs">Fold change (log<tspan font-size="18.5" dy="8">2</tspan><tspan dy="-8">)</tspan></text>
<text x="767.3" y="573.5" font-size="40" font-weight="bold" stroke="#231f20" stroke-width="1.3">d</text>
<text x="885.3" y="573.5" font-size="26.5" textLength="289.7" lengthAdjust="spacingAndGlyphs">Volcano plot PE screen</text>
<circle cx="888.8" cy="651.9" r="12.2" fill="#5b2878"/>
<text x="912.2" y="658.8" font-size="23" textLength="67.2" lengthAdjust="spacingAndGlyphs">eQTLs</text>
<circle cx="1025.3" cy="651.9" r="12.2" fill="#fcd23d"/>
<text x="1049" y="658.8" font-size="23" textLength="153.2" lengthAdjust="spacingAndGlyphs">STOP controls</text>
<line x1="870.4" y1="693" x2="870.4" y2="1001.55" stroke="#231f20" stroke-width="1.6" />
<line x1="870.4" y1="1000.8" x2="1189.3" y2="1000.8" stroke="#231f20" stroke-width="1.6" />
<line x1="864" y1="986.8" x2="870.4" y2="986.8" stroke="#231f20" stroke-width="1.6" />
<text x="849.8" y="994.4" font-size="21.5" text-anchor="end" textLength="13" lengthAdjust="spacingAndGlyphs">0</text>
<line x1="864" y1="906.6" x2="870.4" y2="906.6" stroke="#231f20" stroke-width="1.6" />
<text x="849.8" y="914.2" font-size="21.5" text-anchor="end" textLength="36" lengthAdjust="spacingAndGlyphs">2.5</text>
<line x1="864" y1="826.4" x2="870.4" y2="826.4" stroke="#231f20" stroke-width="1.6" />
<text x="849.8" y="834" font-size="21.5" text-anchor="end" textLength="36" lengthAdjust="spacingAndGlyphs">5.0</text>
<line x1="864" y1="746.2" x2="870.4" y2="746.2" stroke="#231f20" stroke-width="1.6" />
<text x="849.8" y="753.8" font-size="21.5" text-anchor="end" textLength="36" lengthAdjust="spacingAndGlyphs">7.5</text>
<line x1="933" y1="1000.8" x2="933" y2="1007.8" stroke="#231f20" stroke-width="1.6" />
<text x="931.5" y="1034.9" font-size="21.5" text-anchor="middle" textLength="26" lengthAdjust="spacingAndGlyphs">−2</text>
<line x1="1029.8" y1="1000.8" x2="1029.8" y2="1007.8" stroke="#231f20" stroke-width="1.6" />
<text x="1029.8" y="1034.9" font-size="21.5" text-anchor="middle" textLength="13" lengthAdjust="spacingAndGlyphs">0</text>
<line x1="1126.6" y1="1000.8" x2="1126.6" y2="1007.8" stroke="#231f20" stroke-width="1.6" />
<text x="1126.6" y="1034.9" font-size="21.5" text-anchor="middle" textLength="13" lengthAdjust="spacingAndGlyphs">2</text>
<circle cx="966.1" cy="986.8" r="6.6" fill="#8c8d8f"/>
<circle cx="1006" cy="986.25" r="6.6" fill="#8c8d8f"/>
<rect x="1002.05" y="981.05" width="12.5" height="12.5" fill="#8c8d8f"/>
<polygon points="1003.6,991.8 1010.6,979.8 1017.6,991.8" fill="#8c8d8f" />
<circle cx="1012.9" cy="986.99" r="6.6" fill="#8c8d8f"/>
<rect x="1008.95" y="981.05" width="12.5" height="12.5" fill="#8c8d8f"/>
<polygon points="1010.5,991.8 1017.5,979.8 1024.5,991.8" fill="#8c8d8f" />
<circle cx="1019.8" cy="986.85" r="6.6" fill="#8c8d8f"/>
<rect x="1015.85" y="981.05" width="12.5" height="12.5" fill="#8c8d8f"/>
<polygon points="1017.4,991.8 1024.4,979.8 1031.4,991.8" fill="#8c8d8f" />
<circle cx="1026.7" cy="986.17" r="6.6" fill="#8c8d8f"/>
<rect x="1022.75" y="981.05" width="12.5" height="12.5" fill="#8c8d8f"/>
<polygon points="1024.3,991.8 1031.3,979.8 1038.3,991.8" fill="#8c8d8f" />
<circle cx="1033.6" cy="986.66" r="6.6" fill="#8c8d8f"/>
<rect x="1029.65" y="981.05" width="12.5" height="12.5" fill="#8c8d8f"/>
<polygon points="1031.2,991.8 1038.2,979.8 1045.2,991.8" fill="#8c8d8f" />
<circle cx="1040.5" cy="986.59" r="6.6" fill="#8c8d8f"/>
<polygon points="1023,990.8 1030,978.8 1037,990.8" fill="#8c8d8f" />
<polygon points="1026,990.8 1033,978.8 1040,990.8" fill="#8c8d8f" />
<circle cx="1006.5" cy="982.3" r="6.6" fill="#8c8d8f"/>
<circle cx="1054" cy="986.8" r="6.6" fill="#8c8d8f"/>
<rect x="1051" y="980.3" width="13" height="13" fill="#8c8d8f"/>
<circle cx="987.4" cy="706.9" r="6.6" fill="#fcd23d"/>
<polygon points="930.9,769.75 940.4,753.25 949.9,769.75" fill="#fcd23d" />
<circle cx="1010" cy="878.2" r="6.6" fill="#fcd23d"/>
<rect x="953.7" y="909.3" width="13" height="13" fill="#fcd23d"/>
<line x1="1029.8" y1="1000.8" x2="1029.8" y2="693" stroke="#231f20" stroke-width="2.6" stroke-dasharray="17.6 17.9"/>
<line x1="871" y1="946.1" x2="1189.3" y2="946.1" stroke="#231f20" stroke-width="2.6" stroke-dasharray="17 18.4"/>
<polygon points="1048.2,722.11 1061.7,698.89 1075.2,722.11" fill="#8c8d8f" />
<rect x="1050.2" y="731" width="24" height="24" fill="#8c8d8f"/>
<circle cx="1061.2" cy="776.9" r="12" fill="#8c8d8f"/>
<text x="1085.6" y="717.3" font-size="23" textLength="105.4" lengthAdjust="spacingAndGlyphs">REF – HET</text>
<text x="1085.6" y="752.8" font-size="23" textLength="103.4" lengthAdjust="spacingAndGlyphs">REF – ALT</text>
<text x="1085.6" y="785.9" font-size="23" textLength="106.1" lengthAdjust="spacingAndGlyphs">HET – ALT</text>
<text x="803.5" y="940.9" font-size="28" textLength="188" lengthAdjust="spacingAndGlyphs" transform="rotate(-90 803.5 940.9)"><tspan font-style="italic">P</tspan> value (−log<tspan font-size="19" dy="5">10</tspan><tspan dy="-5">)</tspan></text>
<text x="914.2" y="1076.7" font-size="28" textLength="232.3" lengthAdjust="spacingAndGlyphs">Fold change (log<tspan font-size="18.5" dy="8">2</tspan><tspan dy="-8">)</tspan></text>
<text x="767.5" y="1152.5" font-size="39" font-weight="bold" stroke="#231f20" stroke-width="1.3">g</text>
<text x="884" y="1152.5" font-size="26.5" textLength="289.7" lengthAdjust="spacingAndGlyphs">Volcano plot BE screen</text>
<circle cx="1001.5" cy="1197.6" r="12.2" fill="#5b2878"/>
<text x="1025.6" y="1205" font-size="23" textLength="66" lengthAdjust="spacingAndGlyphs">eQTLs</text>
<line x1="870.4" y1="1243.6" x2="870.4" y2="1551.85" stroke="#231f20" stroke-width="1.6" />
<line x1="870.4" y1="1551.1" x2="1191.4" y2="1551.1" stroke="#231f20" stroke-width="1.6" />
<line x1="864" y1="1537.2" x2="870.4" y2="1537.2" stroke="#231f20" stroke-width="1.6" />
<text x="851" y="1544.8" font-size="21.5" text-anchor="end" textLength="13" lengthAdjust="spacingAndGlyphs">0</text>
<line x1="864" y1="1442.6" x2="870.4" y2="1442.6" stroke="#231f20" stroke-width="1.6" />
<text x="851" y="1450.2" font-size="21.5" text-anchor="end" textLength="28" lengthAdjust="spacingAndGlyphs">10</text>
<line x1="864" y1="1348" x2="870.4" y2="1348" stroke="#231f20" stroke-width="1.6" />
<text x="851" y="1355.6" font-size="21.5" text-anchor="end" textLength="28" lengthAdjust="spacingAndGlyphs">20</text>
<line x1="864" y1="1253.4" x2="870.4" y2="1253.4" stroke="#231f20" stroke-width="1.6" />
<text x="851" y="1261" font-size="21.5" text-anchor="end" textLength="28" lengthAdjust="spacingAndGlyphs">30</text>
<line x1="933.7" y1="1551.1" x2="933.7" y2="1558.1" stroke="#231f20" stroke-width="1.6" />
<text x="932.2" y="1586.5" font-size="21.5" text-anchor="middle" textLength="26" lengthAdjust="spacingAndGlyphs">−2</text>
<line x1="1031.1" y1="1551.1" x2="1031.1" y2="1558.1" stroke="#231f20" stroke-width="1.6" />
<text x="1031.1" y="1586.5" font-size="21.5" text-anchor="middle" textLength="13" lengthAdjust="spacingAndGlyphs">0</text>
<line x1="1128.5" y1="1551.1" x2="1128.5" y2="1558.1" stroke="#231f20" stroke-width="1.6" />
<text x="1128.5" y="1586.5" font-size="21.5" text-anchor="middle" textLength="13" lengthAdjust="spacingAndGlyphs">2</text>
<circle cx="1044.63" cy="1530.63" r="6.6" fill="#8c8d8f"/>
<rect x="1013.13" y="1522.13" width="12.5" height="12.5" fill="#8c8d8f"/>
<polygon points="1005.08,1538.44 1012.08,1526.44 1019.08,1538.44" fill="#8c8d8f" />
<circle cx="1039.56" cy="1535.83" r="6.6" fill="#8c8d8f"/>
<rect x="1021.78" y="1530.6" width="12.5" height="12.5" fill="#8c8d8f"/>
<polygon points="1028.73,1535.32 1035.73,1523.32 1042.73,1535.32" fill="#8c8d8f" />
<circle cx="1031.64" cy="1529.32" r="6.6" fill="#8c8d8f"/>
<rect x="1014.24" y="1524.69" width="12.5" height="12.5" fill="#8c8d8f"/>
<polygon points="1025.56,1536.98 1032.56,1524.98 1039.56,1536.98" fill="#8c8d8f" />
<circle cx="1026.62" cy="1529.64" r="6.6" fill="#8c8d8f"/>
<rect x="1041.37" y="1526.68" width="12.5" height="12.5" fill="#8c8d8f"/>
<polygon points="1028.56,1541.65 1035.56,1529.65 1042.56,1541.65" fill="#8c8d8f" />
<circle cx="1037.16" cy="1531.38" r="6.6" fill="#8c8d8f"/>
<rect x="1043.45" y="1523.55" width="12.5" height="12.5" fill="#8c8d8f"/>
<polygon points="1012.24,1538.73 1019.24,1526.73 1026.24,1538.73" fill="#8c8d8f" />
<circle cx="1035.75" cy="1537" r="6.6" fill="#8c8d8f"/>
<rect x="1020.6" y="1529.44" width="12.5" height="12.5" fill="#8c8d8f"/>
<polygon points="1005.04,1541.67 1012.04,1529.67 1019.04,1541.67" fill="#8c8d8f" />
<circle cx="1040.03" cy="1536.04" r="6.6" fill="#8c8d8f"/>
<rect x="1011.4" y="1527.43" width="12.5" height="12.5" fill="#8c8d8f"/>
<polygon points="1037.47,1541.47 1044.47,1529.47 1051.47,1541.47" fill="#8c8d8f" />
<circle cx="1026.32" cy="1532.26" r="6.6" fill="#8c8d8f"/>
<rect x="1038.74" y="1523.58" width="12.5" height="12.5" fill="#8c8d8f"/>
<polygon points="1037.15,1539.69 1044.15,1527.69 1051.15,1539.69" fill="#8c8d8f" />
<circle cx="1024.86" cy="1533.97" r="6.6" fill="#8c8d8f"/>
<rect x="1038.77" y="1522.33" width="12.5" height="12.5" fill="#8c8d8f"/>
<polygon points="1006.49,1540.61 1013.49,1528.61 1020.49,1540.61" fill="#8c8d8f" />
<circle cx="1016.97" cy="1535.1" r="6.6" fill="#8c8d8f"/>
<rect x="1021.6" y="1525.65" width="12.5" height="12.5" fill="#8c8d8f"/>
<polygon points="1011.3,1542.16 1018.3,1530.16 1025.3,1542.16" fill="#8c8d8f" />
<circle cx="1025.01" cy="1533.88" r="6.6" fill="#8c8d8f"/>
<rect x="1025.1" y="1522.37" width="12.5" height="12.5" fill="#8c8d8f"/>
<polygon points="1029.69,1537.56 1036.69,1525.56 1043.69,1537.56" fill="#8c8d8f" />
<circle cx="1033.56" cy="1531.11" r="6.6" fill="#8c8d8f"/>
<rect x="1003.07" y="1522.85" width="12.5" height="12.5" fill="#8c8d8f"/>
<polygon points="1033.54,1534.33 1040.54,1522.33 1047.54,1534.33" fill="#8c8d8f" />
<circle cx="1041.31" cy="1533.67" r="6.6" fill="#8c8d8f"/>
<rect x="1017.91" y="1530.02" width="12.5" height="12.5" fill="#8c8d8f"/>
<polygon points="1027.27,1541.64 1034.27,1529.64 1041.27,1541.64" fill="#8c8d8f" />
<circle cx="1009.9" cy="1535.32" r="6.6" fill="#8c8d8f"/>
<rect x="1007.73" y="1527.89" width="12.5" height="12.5" fill="#8c8d8f"/>
<polygon points="1002.26,1542.2 1009.26,1530.2 1016.26,1542.2" fill="#8c8d8f" />
<circle cx="1013.5" cy="1536.29" r="6.6" fill="#8c8d8f"/>
<rect x="1016.39" y="1530.72" width="12.5" height="12.5" fill="#8c8d8f"/>
<polygon points="1037.6,1536.67 1044.6,1524.67 1051.6,1536.67" fill="#8c8d8f" />
<circle cx="1013.39" cy="1534.93" r="6.6" fill="#8c8d8f"/>
<rect x="1015.69" y="1527.67" width="12.5" height="12.5" fill="#8c8d8f"/>
<polygon points="1005.28,1534.56 1012.28,1522.56 1019.28,1534.56" fill="#8c8d8f" />
<circle cx="1049.7" cy="1533.01" r="6.6" fill="#8c8d8f"/>
<rect x="1021.55" y="1530.18" width="12.5" height="12.5" fill="#8c8d8f"/>
<polygon points="1004.39,1539.12 1011.39,1527.12 1018.39,1539.12" fill="#8c8d8f" />
<circle cx="1018.38" cy="1529.74" r="6.6" fill="#8c8d8f"/>
<rect x="1007.69" y="1530.74" width="12.5" height="12.5" fill="#8c8d8f"/>
<polygon points="1040.89,1537.45 1047.89,1525.45 1054.89,1537.45" fill="#8c8d8f" />
<circle cx="1013.3" cy="1532.31" r="6.6" fill="#8c8d8f"/>
<rect x="1001.91" y="1526.2" width="12.5" height="12.5" fill="#8c8d8f"/>
<polygon points="1042.08,1534.43 1049.08,1522.43 1056.08,1534.43" fill="#8c8d8f" />
<circle cx="1036.94" cy="1534.85" r="6.6" fill="#8c8d8f"/>
<rect x="1016.52" y="1529.45" width="12.5" height="12.5" fill="#8c8d8f"/>
<polygon points="1033.19,1537.41 1040.19,1525.41 1047.19,1537.41" fill="#8c8d8f" />
<circle cx="1040.5" cy="1534.23" r="6.6" fill="#8c8d8f"/>
<rect x="1010.34" y="1523.65" width="12.5" height="12.5" fill="#8c8d8f"/>
<polygon points="1042.35,1534.53 1049.35,1522.53 1056.35,1534.53" fill="#8c8d8f" />
<circle cx="1041.66" cy="1529.84" r="6.6" fill="#8c8d8f"/>
<rect x="1032.56" y="1528.91" width="12.5" height="12.5" fill="#8c8d8f"/>
<polygon points="1022.26,1539 1029.26,1527 1036.26,1539" fill="#8c8d8f" />
<circle cx="1008.25" cy="1536.95" r="6.6" fill="#8c8d8f"/>
<rect x="1012.76" y="1528.62" width="12.5" height="12.5" fill="#8c8d8f"/>
<polygon points="1029.78,1533.59 1036.78,1521.59 1043.78,1533.59" fill="#8c8d8f" />
<circle cx="1026.23" cy="1528.77" r="6.6" fill="#8c8d8f"/>
<circle cx="1008" cy="1536.2" r="6.6" fill="#8c8d8f"/>
<circle cx="1012" cy="1536.2" r="6.6" fill="#8c8d8f"/>
<circle cx="1020" cy="1536.2" r="6.6" fill="#8c8d8f"/>
<circle cx="1030" cy="1536.2" r="6.6" fill="#8c8d8f"/>
<circle cx="1040" cy="1536.2" r="6.6" fill="#8c8d8f"/>
<circle cx="1048" cy="1536.2" r="6.6" fill="#8c8d8f"/>
<circle cx="1052" cy="1536.2" r="6.6" fill="#8c8d8f"/>
<polygon points="999,1543.2 1006,1531.2 1013,1543.2" fill="#8c8d8f" />
<rect x="1059.4" y="1250.6" width="13" height="13" fill="#5b2878"/>
<circle cx="1002.1" cy="1362.1" r="6.8" fill="#5b2878"/>
<rect x="1015.9" y="1351.4" width="13" height="13" fill="#5b2878"/>
<circle cx="1041.7" cy="1484.1" r="6.6" fill="#5b2878"/>
<circle cx="1016.6" cy="1498.6" r="6.6" fill="#5b2878"/>
<circle cx="1041.7" cy="1510.2" r="6.6" fill="#5b2878"/>
<circle cx="1017.6" cy="1509.2" r="6.6" fill="#5b2878"/>
<circle cx="1022" cy="1512" r="6.6" fill="#5b2878"/>
<circle cx="1024" cy="1515" r="6.6" fill="#5b2878"/>
<circle cx="1028.5" cy="1519" r="6.6" fill="#5b2878"/>
<circle cx="1033" cy="1521" r="6.6" fill="#5b2878"/>
<circle cx="1037" cy="1519" r="6.6" fill="#5b2878"/>
<rect x="1011" y="1499.5" width="12" height="12" fill="#5b2878"/>
<line x1="1031.1" y1="1551.1" x2="1031.1" y2="1243.6" stroke="#231f20" stroke-width="2.6" stroke-dasharray="17.6 17.9"/>
<line x1="871" y1="1525.3" x2="1191.4" y2="1525.3" stroke="#231f20" stroke-width="2.6" stroke-dasharray="17 18.4"/>
<polygon points="1057.7,1315.51 1071.2,1292.29 1084.7,1315.51" fill="#8c8d8f" />
<rect x="1059.45" y="1324.85" width="23.5" height="23.5" fill="#8c8d8f"/>
<circle cx="1070.8" cy="1370.7" r="12" fill="#8c8d8f"/>
<text x="1100.6" y="1310.3" font-size="23" textLength="104.7" lengthAdjust="spacingAndGlyphs">REF – HET</text>
<text x="1100.6" y="1345.7" font-size="23" textLength="102.7" lengthAdjust="spacingAndGlyphs">REF – ALT</text>
<text x="1100.6" y="1379.8" font-size="23" textLength="105.4" lengthAdjust="spacingAndGlyphs">HET – ALT</text>
<text x="801.9" y="1491.5" font-size="28" textLength="190" lengthAdjust="spacingAndGlyphs" transform="rotate(-90 801.9 1491.5)"><tspan font-style="italic">P</tspan> value (−log<tspan font-size="19" dy="5">10</tspan><tspan dy="-5">)</tspan></text>
<text x="915.5" y="1628.3" font-size="28" textLength="232.5" lengthAdjust="spacingAndGlyphs">Fold change (log<tspan font-size="18.5" dy="8">2</tspan><tspan dy="-8">)</tspan></text>
<text x="1231.3" y="573.5" font-size="40" font-weight="bold" stroke="#231f20" stroke-width="1.3">e</text>
<text x="1389.3" y="572.8" font-size="26.5" textLength="75.3" lengthAdjust="spacingAndGlyphs" font-style="italic">SOX11</text>
<text x="1326" y="617.8" font-size="22.8" textLength="202" lengthAdjust="spacingAndGlyphs">Chr2:5692808 C/A</text>
<text x="1363.6" y="645.6" font-size="22.8" textLength="126" lengthAdjust="spacingAndGlyphs">stop gained</text>
<line x1="1328.6" y1="692.2" x2="1328.6" y2="1001.55" stroke="#231f20" stroke-width="1.6" />
<line x1="1328.6" y1="1000.8" x2="1523.9" y2="1000.8" stroke="#231f20" stroke-width="1.6" />
<line x1="1322.4" y1="706.3" x2="1328.6" y2="706.3" stroke="#231f20" stroke-width="1.6" />
<text x="1275" y="715.9" font-size="23" textLength="24.4" lengthAdjust="spacingAndGlyphs">10</text>
<text x="1300.7" y="703.9" font-size="15" textLength="8.4" lengthAdjust="spacingAndGlyphs">3</text>
<line x1="1322.4" y1="799.7" x2="1328.6" y2="799.7" stroke="#231f20" stroke-width="1.6" />
<text x="1275" y="809.3" font-size="23" textLength="24.4" lengthAdjust="spacingAndGlyphs">10</text>
<text x="1300.7" y="797.3" font-size="15" textLength="8.4" lengthAdjust="spacingAndGlyphs">2</text>
<line x1="1322.4" y1="893.1" x2="1328.6" y2="893.1" stroke="#231f20" stroke-width="1.6" />
<text x="1275" y="902.7" font-size="23" textLength="24.4" lengthAdjust="spacingAndGlyphs">10</text>
<text x="1300.7" y="890.7" font-size="15" textLength="8.4" lengthAdjust="spacingAndGlyphs">1</text>
<line x1="1322.4" y1="986.4" x2="1328.6" y2="986.4" stroke="#231f20" stroke-width="1.6" />
<text x="1275" y="996" font-size="23" textLength="24.4" lengthAdjust="spacingAndGlyphs">10</text>
<text x="1300.7" y="984" font-size="15" textLength="8.4" lengthAdjust="spacingAndGlyphs">0</text>
<line x1="1365.5" y1="1000.8" x2="1365.5" y2="1007.6" stroke="#231f20" stroke-width="1.6" />
<text x="1377.5" y="1032.5" font-size="20" text-anchor="end" transform="rotate(-45 1377.5 1032.5)">REF</text>
<line x1="1426.5" y1="1000.8" x2="1426.5" y2="1007.6" stroke="#231f20" stroke-width="1.6" />
<text x="1438.5" y="1032.5" font-size="20" text-anchor="end" transform="rotate(-45 1438.5 1032.5)">HET</text>
<line x1="1487.4" y1="1000.8" x2="1487.4" y2="1007.6" stroke="#231f20" stroke-width="1.6" />
<text x="1499.4" y="1032.5" font-size="20" text-anchor="end" transform="rotate(-45 1499.4 1032.5)">ALT</text>
<text x="1254.4" y="1013.4" font-size="28" textLength="333.7" lengthAdjust="spacingAndGlyphs" transform="rotate(-90 1254.4 1013.4)"><tspan font-style="italic">SOX11</tspan> UMIs per cell (log<tspan font-size="19" dy="5">10</tspan><tspan dy="-5">)</tspan></text>
<text x="1714" y="572.8" font-size="26.5" textLength="62" lengthAdjust="spacingAndGlyphs" font-style="italic">ATF4</text>
<text x="1633.3" y="617.8" font-size="22.8" textLength="223.4" lengthAdjust="spacingAndGlyphs">Chr22:39521556 C/G</text>
<text x="1682.7" y="645.6" font-size="22.8" textLength="126" lengthAdjust="spacingAndGlyphs">stop gained</text>
<line x1="1647.9" y1="692.2" x2="1647.9" y2="1001.55" stroke="#231f20" stroke-width="1.6" />
<line x1="1647.9" y1="1000.8" x2="1843.2" y2="1000.8" stroke="#231f20" stroke-width="1.6" />
<line x1="1641.7" y1="706.3" x2="1647.9" y2="706.3" stroke="#231f20" stroke-width="1.6" />
<text x="1594.3" y="715.9" font-size="23" textLength="24.4" lengthAdjust="spacingAndGlyphs">10</text>
<text x="1620" y="703.9" font-size="15" textLength="8.4" lengthAdjust="spacingAndGlyphs">3</text>
<line x1="1641.7" y1="799.7" x2="1647.9" y2="799.7" stroke="#231f20" stroke-width="1.6" />
<text x="1594.3" y="809.3" font-size="23" textLength="24.4" lengthAdjust="spacingAndGlyphs">10</text>
<text x="1620" y="797.3" font-size="15" textLength="8.4" lengthAdjust="spacingAndGlyphs">2</text>
<line x1="1641.7" y1="893.1" x2="1647.9" y2="893.1" stroke="#231f20" stroke-width="1.6" />
<text x="1594.3" y="902.7" font-size="23" textLength="24.4" lengthAdjust="spacingAndGlyphs">10</text>
<text x="1620" y="890.7" font-size="15" textLength="8.4" lengthAdjust="spacingAndGlyphs">1</text>
<line x1="1641.7" y1="986.4" x2="1647.9" y2="986.4" stroke="#231f20" stroke-width="1.6" />
<text x="1594.3" y="996" font-size="23" textLength="24.4" lengthAdjust="spacingAndGlyphs">10</text>
<text x="1620" y="984" font-size="15" textLength="8.4" lengthAdjust="spacingAndGlyphs">0</text>
<line x1="1684.8" y1="1000.8" x2="1684.8" y2="1007.6" stroke="#231f20" stroke-width="1.6" />
<text x="1696.8" y="1032.5" font-size="20" text-anchor="end" transform="rotate(-45 1696.8 1032.5)">REF</text>
<line x1="1745.8" y1="1000.8" x2="1745.8" y2="1007.6" stroke="#231f20" stroke-width="1.6" />
<text x="1757.8" y="1032.5" font-size="20" text-anchor="end" transform="rotate(-45 1757.8 1032.5)">HET</text>
<line x1="1806.7" y1="1000.8" x2="1806.7" y2="1007.6" stroke="#231f20" stroke-width="1.6" />
<text x="1818.7" y="1032.5" font-size="20" text-anchor="end" transform="rotate(-45 1818.7 1032.5)">ALT</text>
<text x="1574.3" y="1008.5" font-size="28" textLength="323" lengthAdjust="spacingAndGlyphs" transform="rotate(-90 1574.3 1008.5)"><tspan font-style="italic">ATF4</tspan> UMIs per cell (log<tspan font-size="19" dy="5">10</tspan><tspan dy="-5">)</tspan></text>
<text x="2020.8" y="572.8" font-size="26.5" textLength="87" lengthAdjust="spacingAndGlyphs" font-style="italic">MYH10</text>
<text x="1963.7" y="617.8" font-size="22.8" textLength="200.9" lengthAdjust="spacingAndGlyphs">Chr17:8622917 A/C</text>
<text x="2001" y="645.6" font-size="22.8" textLength="126.3" lengthAdjust="spacingAndGlyphs">stop gained</text>
<line x1="1966.9" y1="692.2" x2="1966.9" y2="1001.55" stroke="#231f20" stroke-width="1.6" />
<line x1="1966.9" y1="1000.8" x2="2162.2" y2="1000.8" stroke="#231f20" stroke-width="1.6" />
<line x1="1960.7" y1="706.3" x2="1966.9" y2="706.3" stroke="#231f20" stroke-width="1.6" />
<text x="1913.3" y="715.9" font-size="23" textLength="24.4" lengthAdjust="spacingAndGlyphs">10</text>
<text x="1939" y="703.9" font-size="15" textLength="8.4" lengthAdjust="spacingAndGlyphs">3</text>
<line x1="1960.7" y1="799.7" x2="1966.9" y2="799.7" stroke="#231f20" stroke-width="1.6" />
<text x="1913.3" y="809.3" font-size="23" textLength="24.4" lengthAdjust="spacingAndGlyphs">10</text>
<text x="1939" y="797.3" font-size="15" textLength="8.4" lengthAdjust="spacingAndGlyphs">2</text>
<line x1="1960.7" y1="893.1" x2="1966.9" y2="893.1" stroke="#231f20" stroke-width="1.6" />
<text x="1913.3" y="902.7" font-size="23" textLength="24.4" lengthAdjust="spacingAndGlyphs">10</text>
<text x="1939" y="890.7" font-size="15" textLength="8.4" lengthAdjust="spacingAndGlyphs">1</text>
<line x1="1960.7" y1="986.4" x2="1966.9" y2="986.4" stroke="#231f20" stroke-width="1.6" />
<text x="1913.3" y="996" font-size="23" textLength="24.4" lengthAdjust="spacingAndGlyphs">10</text>
<text x="1939" y="984" font-size="15" textLength="8.4" lengthAdjust="spacingAndGlyphs">0</text>
<line x1="2003.8" y1="1000.8" x2="2003.8" y2="1007.6" stroke="#231f20" stroke-width="1.6" />
<text x="2015.8" y="1032.5" font-size="20" text-anchor="end" transform="rotate(-45 2015.8 1032.5)">REF</text>
<line x1="2064.8" y1="1000.8" x2="2064.8" y2="1007.6" stroke="#231f20" stroke-width="1.6" />
<text x="2076.8" y="1032.5" font-size="20" text-anchor="end" transform="rotate(-45 2076.8 1032.5)">HET</text>
<line x1="2125.7" y1="1000.8" x2="2125.7" y2="1007.6" stroke="#231f20" stroke-width="1.6" />
<text x="2137.7" y="1032.5" font-size="20" text-anchor="end" transform="rotate(-45 2137.7 1032.5)">ALT</text>
<text x="1896.2" y="1019.3" font-size="28" textLength="344.6" lengthAdjust="spacingAndGlyphs" transform="rotate(-90 1896.2 1019.3)"><tspan font-style="italic">MYH10</tspan> UMIs per cell (log<tspan font-size="19" dy="5">10</tspan><tspan dy="-5">)</tspan></text>
<path d="M1366.1,769C1366.22,770.83 1366.43,776.17 1366.8,780C1367.17,783.83 1367.38,788.33 1368.3,792C1369.22,795.67 1370.47,798.17 1372.3,802C1374.13,805.83 1376.72,810.33 1379.3,815C1381.88,819.67 1385.6,824.83 1387.8,830C1390,835.17 1392,841.33 1392.5,846C1393,850.67 1392.17,853.67 1390.8,858C1389.43,862.33 1386.72,867 1384.3,872C1381.88,877 1378.63,883 1376.3,888C1373.97,893 1371.77,897.5 1370.3,902C1368.83,906.5 1368.13,909.5 1367.5,915C1366.87,920.5 1366.73,927.5 1366.5,935C1366.27,942.5 1366.17,955.83 1366.1,960L1364.5,960C1364.43,955.83 1364.33,942.5 1364.1,935C1363.87,927.5 1363.73,920.5 1363.1,915C1362.47,909.5 1361.77,906.5 1360.3,902C1358.83,897.5 1356.63,893 1354.3,888C1351.97,883 1348.72,877 1346.3,872C1343.88,867 1341.17,862.33 1339.8,858C1338.43,853.67 1337.6,850.67 1338.1,846C1338.6,841.33 1340.6,835.17 1342.8,830C1345,824.83 1348.72,819.67 1351.3,815C1353.88,810.33 1356.47,805.83 1358.3,802C1360.13,798.17 1361.38,795.67 1362.3,792C1363.22,788.33 1363.43,783.83 1363.8,780C1364.17,776.17 1364.38,770.83 1364.5,769Z" fill="#a4b3e0" stroke="#231f20" stroke-width="2.3" stroke-linejoin="round"/>
<line x1="1365.3" y1="768.5" x2="1365.3" y2="935" stroke="#231f20" stroke-width="2.5" />
<rect x="1357.3" y="836.4" width="16.4" height="40.7" fill="#3474c3" stroke="#231f20" stroke-width="2.6"/>
<line x1="1357.3" y1="853.8" x2="1373.7" y2="853.8" stroke="#231f20" stroke-width="2.6" />
<circle cx="1365.3" cy="768.5" r="2.9" fill="#231f20"/>
<circle cx="1365.3" cy="943" r="2.9" fill="#231f20"/>
<circle cx="1365.3" cy="946" r="2.9" fill="#231f20"/>
<circle cx="1365.3" cy="949" r="2.9" fill="#231f20"/>
<circle cx="1365.3" cy="952" r="2.9" fill="#231f20"/>
<circle cx="1365.3" cy="955" r="2.9" fill="#231f20"/>
<circle cx="1365.3" cy="961.8" r="2.9" fill="#231f20"/>
<path d="M1427.8,795C1428.13,796.33 1428.22,799.67 1429.8,803C1431.38,806.33 1434.38,810.5 1437.3,815C1440.22,819.5 1444.72,825 1447.3,830C1449.88,835 1451.75,840.33 1452.8,845C1453.85,849.67 1453.77,853.5 1453.6,858C1453.43,862.5 1453.35,867 1451.8,872C1450.25,877 1446.88,883 1444.3,888C1441.72,893 1438.55,897.5 1436.3,902C1434.05,906.5 1432.1,910.67 1430.8,915C1429.5,919.33 1429.05,921.83 1428.5,928C1427.95,934.17 1427.67,948 1427.5,952L1425.1,952C1424.93,948 1424.65,934.17 1424.1,928C1423.55,921.83 1423.1,919.33 1421.8,915C1420.5,910.67 1418.55,906.5 1416.3,902C1414.05,897.5 1410.88,893 1408.3,888C1405.72,883 1402.35,877 1400.8,872C1399.25,867 1399.17,862.5 1399,858C1398.83,853.5 1398.75,849.67 1399.8,845C1400.85,840.33 1402.72,835 1405.3,830C1407.88,825 1412.38,819.5 1415.3,815C1418.22,810.5 1421.22,806.33 1422.8,803C1424.38,799.67 1424.47,796.33 1424.8,795Z" fill="#c5e8ee" stroke="#231f20" stroke-width="2.3" stroke-linejoin="round"/>
<line x1="1426.3" y1="795" x2="1426.3" y2="907" stroke="#231f20" stroke-width="2.5" />
<rect x="1418.2" y="839.2" width="16.1" height="43.2" fill="#5cc4d6" stroke="#231f20" stroke-width="2.6"/>
<line x1="1418.2" y1="860.8" x2="1434.3" y2="860.8" stroke="#231f20" stroke-width="2.6" />
<circle cx="1426.3" cy="953" r="2.9" fill="#231f20"/>
<path d="M1499.7,827C1499.62,828.5 1498.7,832.83 1499.2,836C1499.7,839.17 1500.87,842.83 1502.7,846C1504.53,849.17 1508.2,852.07 1510.2,855C1512.2,857.93 1514.87,861.1 1514.7,863.6C1514.53,866.1 1512.12,867.93 1509.2,870C1506.28,872.07 1500.12,874.33 1497.2,876C1494.28,877.67 1492.28,878.33 1491.7,880C1491.12,881.67 1493.62,884 1493.7,886C1493.78,888 1493.03,890.33 1492.2,892C1491.37,893.67 1489.28,895.33 1488.7,896L1485.7,896C1485.12,895.33 1483.03,893.67 1482.2,892C1481.37,890.33 1480.62,888 1480.7,886C1480.78,884 1483.28,881.67 1482.7,880C1482.12,878.33 1480.12,877.67 1477.2,876C1474.28,874.33 1468.12,872.07 1465.2,870C1462.28,867.93 1459.87,866.1 1459.7,863.6C1459.53,861.1 1462.2,857.93 1464.2,855C1466.2,852.07 1469.87,849.17 1471.7,846C1473.53,842.83 1474.7,839.17 1475.2,836C1475.7,832.83 1474.78,828.5 1474.7,827Z" fill="#a8c8a4" stroke="#231f20" stroke-width="2.3" stroke-linejoin="round"/>
<line x1="1487.2" y1="827" x2="1487.2" y2="880" stroke="#231f20" stroke-width="2.5" />
<rect x="1478.5" y="846.9" width="17.4" height="19.1" fill="#2b9a4a" stroke="#231f20" stroke-width="2.8"/>
<line x1="1478.5" y1="862" x2="1495.9" y2="862" stroke="#231f20" stroke-width="2.8" />
<circle cx="1487.2" cy="895" r="2.9" fill="#231f20"/>
<path d="M1685.4,716.4C1685.6,717.83 1686.1,722.4 1686.6,725C1687.1,727.6 1686.6,729.73 1688.4,732C1690.2,734.27 1694.48,736.27 1697.4,738.6C1700.32,740.93 1703.4,743.05 1705.9,746C1708.4,748.95 1711.82,753.3 1712.4,756.3C1712.98,759.3 1710.73,761.42 1709.4,764C1708.07,766.58 1706.23,769.13 1704.4,771.8C1702.57,774.47 1700.15,777.23 1698.4,780C1696.65,782.77 1695.23,785.9 1693.9,788.4C1692.57,790.9 1691.32,793.07 1690.4,795C1689.48,796.93 1688.9,797.83 1688.4,800C1687.9,802.17 1687.73,803 1687.4,808C1687.07,813 1686.73,820.67 1686.4,830C1686.07,839.33 1685.57,858.33 1685.4,864L1683.4,864C1683.23,858.33 1682.73,839.33 1682.4,830C1682.07,820.67 1681.73,813 1681.4,808C1681.07,803 1680.9,802.17 1680.4,800C1679.9,797.83 1679.32,796.93 1678.4,795C1677.48,793.07 1676.23,790.9 1674.9,788.4C1673.57,785.9 1672.15,782.77 1670.4,780C1668.65,777.23 1666.23,774.47 1664.4,771.8C1662.57,769.13 1660.73,766.58 1659.4,764C1658.07,761.42 1655.82,759.3 1656.4,756.3C1656.98,753.3 1660.4,748.95 1662.9,746C1665.4,743.05 1668.48,740.93 1671.4,738.6C1674.32,736.27 1678.6,734.27 1680.4,732C1682.2,729.73 1681.7,727.6 1682.2,725C1682.7,722.4 1683.2,717.83 1683.4,716.4Z" fill="#a4b3e0" stroke="#231f20" stroke-width="2.3" stroke-linejoin="round"/>
<line x1="1684.4" y1="718" x2="1684.4" y2="800" stroke="#231f20" stroke-width="2.5" />
<rect x="1676.4" y="750.3" width="16.8" height="24" fill="#3474c3" stroke="#231f20" stroke-width="2.6"/>
<line x1="1676.4" y1="759.7" x2="1693.2" y2="759.7" stroke="#231f20" stroke-width="2.6" />
<circle cx="1684.4" cy="716.6" r="2.9" fill="#231f20"/>
<circle cx="1684.4" cy="800" r="2.9" fill="#231f20"/>
<circle cx="1684.4" cy="804" r="2.9" fill="#231f20"/>
<circle cx="1684.4" cy="808" r="2.9" fill="#231f20"/>
<circle cx="1684.4" cy="812" r="2.9" fill="#231f20"/>
<circle cx="1684.4" cy="816" r="2.9" fill="#231f20"/>
<circle cx="1684.4" cy="820" r="2.9" fill="#231f20"/>
<circle cx="1684.4" cy="824" r="2.9" fill="#231f20"/>
<circle cx="1684.4" cy="828" r="2.9" fill="#231f20"/>
<circle cx="1684.4" cy="832" r="2.9" fill="#231f20"/>
<circle cx="1684.4" cy="836" r="2.9" fill="#231f20"/>
<circle cx="1684.4" cy="840" r="2.9" fill="#231f20"/>
<circle cx="1684.4" cy="844" r="2.9" fill="#231f20"/>
<circle cx="1684.4" cy="848" r="2.9" fill="#231f20"/>
<circle cx="1684.4" cy="852" r="2.9" fill="#231f20"/>
<circle cx="1684.4" cy="864" r="2.9" fill="#231f20"/>
<path d="M1753.9,745.2C1754.65,745.58 1756.57,746.37 1758.4,747.5C1760.23,748.63 1762.98,750.25 1764.9,752C1766.82,753.75 1768.77,756 1769.9,758C1771.03,760 1771.62,762 1771.7,764C1771.78,766 1770.92,768 1770.4,770C1769.88,772 1768.6,774 1768.6,776C1768.6,778 1769.6,779.93 1770.4,782C1771.2,784.07 1773.57,786.23 1773.4,788.4C1773.23,790.57 1771.57,792.57 1769.4,795C1767.23,797.43 1763.23,800.67 1760.4,803C1757.57,805.33 1754.32,807.37 1752.4,809C1750.48,810.63 1749.48,812.17 1748.9,812.8L1741.9,812.8C1741.32,812.17 1740.32,810.63 1738.4,809C1736.48,807.37 1733.23,805.33 1730.4,803C1727.57,800.67 1723.57,797.43 1721.4,795C1719.23,792.57 1717.57,790.57 1717.4,788.4C1717.23,786.23 1719.6,784.07 1720.4,782C1721.2,779.93 1722.2,778 1722.2,776C1722.2,774 1720.92,772 1720.4,770C1719.88,768 1719.02,766 1719.1,764C1719.18,762 1719.77,760 1720.9,758C1722.03,756 1723.98,753.75 1725.9,752C1727.82,750.25 1730.57,748.63 1732.4,747.5C1734.23,746.37 1736.15,745.58 1736.9,745.2Z" fill="#c5e8ee" stroke="#231f20" stroke-width="2.3" stroke-linejoin="round"/>
<line x1="1745.4" y1="745.1" x2="1745.4" y2="811.9" stroke="#231f20" stroke-width="2.5" />
<rect x="1736.7" y="762.5" width="17" height="25.8" fill="#5cc4d6" stroke="#231f20" stroke-width="2.6"/>
<line x1="1736.7" y1="774.7" x2="1753.7" y2="774.7" stroke="#231f20" stroke-width="2.6" />
<path d="M1821.4,786.5C1821.68,788.42 1822.07,793.75 1823.1,798C1824.13,802.25 1825.93,807.67 1827.6,812C1829.27,816.33 1832.05,820.67 1833.1,824C1834.15,827.33 1834.15,829.83 1833.9,832C1833.65,834.17 1832.82,835.7 1831.6,837C1830.38,838.3 1827.43,839.33 1826.6,839.8L1786.6,839.8C1785.77,839.33 1782.82,838.3 1781.6,837C1780.38,835.7 1779.55,834.17 1779.3,832C1779.05,829.83 1779.05,827.33 1780.1,824C1781.15,820.67 1783.93,816.33 1785.6,812C1787.27,807.67 1789.07,802.25 1790.1,798C1791.13,793.75 1791.52,788.42 1791.8,786.5Z" fill="#a8c8a4" stroke="#231f20" stroke-width="2.3" stroke-linejoin="round"/>
<line x1="1806.6" y1="786.5" x2="1806.6" y2="839.8" stroke="#231f20" stroke-width="2.5" />
<rect x="1798.3" y="806.7" width="17.4" height="30.3" fill="#2b9a4a" stroke="#231f20" stroke-width="2.6"/>
<line x1="1798.3" y1="825.2" x2="1815.7" y2="825.2" stroke="#231f20" stroke-width="2.6" />
<path d="M2003.7,727C2004.03,729.17 2004.7,735.83 2005.7,740C2006.7,744.17 2007.2,747.83 2009.7,752C2012.2,756.17 2017.25,760.5 2020.7,765C2024.15,769.5 2029.4,774.83 2030.4,779C2031.4,783.17 2028.65,786.5 2026.7,790C2024.75,793.5 2021.37,796.33 2018.7,800C2016.03,803.67 2012.87,807.67 2010.7,812C2008.53,816.33 2006.7,818 2005.7,826C2004.7,834 2005.03,848.72 2004.7,860C2004.37,871.28 2003.87,888.08 2003.7,893.7L2001.7,893.7C2001.53,888.08 2001.03,871.28 2000.7,860C2000.37,848.72 2000.7,834 1999.7,826C1998.7,818 1996.87,816.33 1994.7,812C1992.53,807.67 1989.37,803.67 1986.7,800C1984.03,796.33 1980.65,793.5 1978.7,790C1976.75,786.5 1974,783.17 1975,779C1976,774.83 1981.25,769.5 1984.7,765C1988.15,760.5 1993.2,756.17 1995.7,752C1998.2,747.83 1998.7,744.17 1999.7,740C2000.7,735.83 2001.37,729.17 2001.7,727Z" fill="#a4b3e0" stroke="#231f20" stroke-width="2.3" stroke-linejoin="round"/>
<line x1="2002.7" y1="727" x2="2002.7" y2="826" stroke="#231f20" stroke-width="2.5" />
<rect x="1995.7" y="774.3" width="15.3" height="22" fill="#3474c3" stroke="#231f20" stroke-width="2.6"/>
<line x1="1995.7" y1="784.1" x2="2011" y2="784.1" stroke="#231f20" stroke-width="2.6" />
<circle cx="2002.7" cy="726.7" r="2.9" fill="#231f20"/>
<circle cx="2002.7" cy="729" r="2.9" fill="#231f20"/>
<circle cx="2002.7" cy="732" r="2.9" fill="#231f20"/>
<circle cx="2002.7" cy="735" r="2.9" fill="#231f20"/>
<circle cx="2002.7" cy="738" r="2.9" fill="#231f20"/>
<circle cx="2002.7" cy="741" r="2.9" fill="#231f20"/>
<circle cx="2002.7" cy="826" r="2.9" fill="#231f20"/>
<circle cx="2002.7" cy="830.2" r="2.9" fill="#231f20"/>
<circle cx="2002.7" cy="834.4" r="2.9" fill="#231f20"/>
<circle cx="2002.7" cy="838.6" r="2.9" fill="#231f20"/>
<circle cx="2002.7" cy="842.8" r="2.9" fill="#231f20"/>
<circle cx="2002.7" cy="847" r="2.9" fill="#231f20"/>
<circle cx="2002.7" cy="851.2" r="2.9" fill="#231f20"/>
<circle cx="2002.7" cy="855.4" r="2.9" fill="#231f20"/>
<circle cx="2002.7" cy="859.6" r="2.9" fill="#231f20"/>
<circle cx="2002.7" cy="863.8" r="2.9" fill="#231f20"/>
<circle cx="2002.7" cy="868" r="2.9" fill="#231f20"/>
<circle cx="2002.7" cy="872.2" r="2.9" fill="#231f20"/>
<circle cx="2002.7" cy="876.4" r="2.9" fill="#231f20"/>
<circle cx="2002.7" cy="880.6" r="2.9" fill="#231f20"/>
<circle cx="2002.7" cy="884.8" r="2.9" fill="#231f20"/>
<circle cx="2002.7" cy="889" r="2.9" fill="#231f20"/>
<circle cx="2002.7" cy="893.2" r="2.9" fill="#231f20"/>
<path d="M2072.5,773.6C2073.2,774.67 2074.33,777.27 2076.7,780C2079.07,782.73 2084.07,786.53 2086.7,790C2089.33,793.47 2092.17,797.47 2092.5,800.8C2092.83,804.13 2090.5,806.8 2088.7,810C2086.9,813.2 2083.27,816.33 2081.7,820C2080.13,823.67 2079.97,828.33 2079.3,832C2078.63,835.67 2078.63,839 2077.7,842C2076.77,845 2075.12,847.33 2073.7,850C2072.28,852.67 2070.33,855.33 2069.2,858C2068.07,860.67 2067.42,862.33 2066.9,866C2066.38,869.67 2066.2,875 2066.1,880C2066,885 2066.03,892.17 2066.3,896C2066.57,899.83 2067.25,900.83 2067.7,903C2068.15,905.17 2069,907.33 2069,909C2069,910.67 2068.25,911.92 2067.7,913C2067.15,914.08 2066.03,915.08 2065.7,915.5L2063.7,915.5C2063.37,915.08 2062.25,914.08 2061.7,913C2061.15,911.92 2060.4,910.67 2060.4,909C2060.4,907.33 2061.25,905.17 2061.7,903C2062.15,900.83 2062.83,899.83 2063.1,896C2063.37,892.17 2063.4,885 2063.3,880C2063.2,875 2063.02,869.67 2062.5,866C2061.98,862.33 2061.33,860.67 2060.2,858C2059.07,855.33 2057.12,852.67 2055.7,850C2054.28,847.33 2052.63,845 2051.7,842C2050.77,839 2050.77,835.67 2050.1,832C2049.43,828.33 2049.27,823.67 2047.7,820C2046.13,816.33 2042.5,813.2 2040.7,810C2038.9,806.8 2036.57,804.13 2036.9,800.8C2037.23,797.47 2040.07,793.47 2042.7,790C2045.33,786.53 2050.33,782.73 2052.7,780C2055.07,777.27 2056.2,774.67 2056.9,773.6Z" fill="#c5e8ee" stroke="#231f20" stroke-width="2.3" stroke-linejoin="round"/>
<line x1="2064.7" y1="773.6" x2="2064.7" y2="850.2" stroke="#231f20" stroke-width="2.5" />
<rect x="2056.7" y="797.3" width="15.6" height="24.4" fill="#5cc4d6" stroke="#231f20" stroke-width="2.6"/>
<line x1="2056.7" y1="807.8" x2="2072.3" y2="807.8" stroke="#231f20" stroke-width="2.6" />
<circle cx="2064.7" cy="913.5" r="2.9" fill="#231f20"/>
<path d="M1684.4,686.6 L1684.4,681.4 L1806.6,681.4 L1806.6,686.6" fill="none" stroke="#231f20" stroke-width="1.6" />
<text x="1745.4" y="686.2" font-size="30" text-anchor="middle" textLength="44" lengthAdjust="spacingAndGlyphs">***</text>
<path d="M1684.4,709.3 L1684.4,704.7 L1745.4,704.7 L1745.4,709.3" fill="none" stroke="#231f20" stroke-width="1.6" />
<text x="1715.8" y="709.5" font-size="30" text-anchor="middle" textLength="44" lengthAdjust="spacingAndGlyphs">***</text>
<path d="M1745.4,737.1 L1745.4,731.9 L1806.6,731.9 L1806.6,737.1" fill="none" stroke="#231f20" stroke-width="1.6" />
<text x="1777.7" y="736.7" font-size="30" text-anchor="middle" textLength="44" lengthAdjust="spacingAndGlyphs">***</text>
<path d="M2002.7,711 L2002.7,705.8 L2067.2,705.8 L2067.2,711" fill="none" stroke="#231f20" stroke-width="1.6" />
<text x="2035.8" y="710.6" font-size="30" text-anchor="middle" textLength="44" lengthAdjust="spacingAndGlyphs">***</text>
<text x="1231.3" y="1152.5" font-size="37.5" font-weight="bold" stroke="#231f20" stroke-width="1.3">h</text>
<text x="1478.4" y="1152.5" font-size="26.5" textLength="514.7" lengthAdjust="spacingAndGlyphs">Gene expression effects <tspan font-style="italic">POU5F1</tspan> variants</text>
<text x="1264.3" y="1192.8" font-size="23" textLength="74.3" lengthAdjust="spacingAndGlyphs">Variant</text>
<text x="1270.6" y="1219.3" font-size="23" textLength="60.5" lengthAdjust="spacingAndGlyphs">effect</text>
<text x="1420.8" y="1205.5" font-size="23" textLength="103.5" lengthAdjust="spacingAndGlyphs">Genotype</text>
<text x="1551.9" y="1192.8" font-size="23" textLength="132.1" lengthAdjust="spacingAndGlyphs">Fold change</text>
<text x="1589.8" y="1219.3" font-size="23" textLength="57.1" lengthAdjust="spacingAndGlyphs">(log<tspan font-size="16" dy="7">2</tspan><tspan dy="-7">)</tspan></text>
<text x="1697.3" y="1192.8" font-size="23" textLength="75.6" lengthAdjust="spacingAndGlyphs"><tspan font-style="italic">P</tspan> value</text>
<text x="1702.6" y="1219.3" font-size="23" textLength="71.6" lengthAdjust="spacingAndGlyphs">(-log<tspan font-size="15" dy="7">10</tspan><tspan dy="-7">)</tspan></text>
<rect x="1272.2" y="1241.3" width="23.9" height="23" fill="#f9ae42"/>
<text x="1309.4" y="1259.9" font-size="23" textLength="66.6" lengthAdjust="spacingAndGlyphs">3′ UTR</text>
<rect x="1272.2" y="1271.8" width="23.9" height="23" fill="#ed1c24"/>
<text x="1309.4" y="1290.4" font-size="23" textLength="111.8" lengthAdjust="spacingAndGlyphs">Frameshift</text>
<rect x="1272.2" y="1302.4" width="23.9" height="23" fill="#a87d52"/>
<text x="1309.4" y="1320.9" font-size="23" textLength="97" lengthAdjust="spacingAndGlyphs">Missense</text>
<rect x="1272.2" y="1332.9" width="23.9" height="23" fill="#8dc63f"/>
<text x="1309.4" y="1351.4" font-size="23" textLength="136.3" lengthAdjust="spacingAndGlyphs">Synonymous</text>
<rect x="1457.7" y="1240.5" width="23.3" height="23" fill="#2f72bc"/>
<text x="1495.1" y="1259.1" font-size="23" textLength="37.5" lengthAdjust="spacingAndGlyphs">REF</text>
<rect x="1457.7" y="1271" width="23.3" height="23" fill="#62c8d6"/>
<text x="1495.1" y="1289.9" font-size="23" textLength="40.3" lengthAdjust="spacingAndGlyphs">HET</text>
<rect x="1457.7" y="1301.8" width="23.3" height="23" fill="#1e8c44"/>
<text x="1495.1" y="1320.1" font-size="23" textLength="38" lengthAdjust="spacingAndGlyphs">ALT</text>
<rect x="1593.3" y="1244" width="23.6" height="91" fill="url(#fcbar)"/>
<line x1="1593.3" y1="1263.4" x2="1598" y2="1263.4" stroke="#ffffff" stroke-width="1.3" />
<line x1="1612.2" y1="1263.4" x2="1616.9" y2="1263.4" stroke="#ffffff" stroke-width="1.3" />
<line x1="1593.3" y1="1289.9" x2="1598" y2="1289.9" stroke="#ffffff" stroke-width="1.3" />
<line x1="1612.2" y1="1289.9" x2="1616.9" y2="1289.9" stroke="#ffffff" stroke-width="1.3" />
<line x1="1593.3" y1="1315.1" x2="1598" y2="1315.1" stroke="#ffffff" stroke-width="1.3" />
<line x1="1612.2" y1="1315.1" x2="1616.9" y2="1315.1" stroke="#ffffff" stroke-width="1.3" />
<text x="1629.6" y="1271.8" font-size="23" textLength="34.5" lengthAdjust="spacingAndGlyphs">0.4</text>
<text x="1629.6" y="1297" font-size="23" textLength="14.6" lengthAdjust="spacingAndGlyphs">0</text>
<text x="1628.8" y="1323.6" font-size="23" textLength="47.3" lengthAdjust="spacingAndGlyphs">−0.4</text>
<circle cx="1720.6" cy="1244.8" r="1.4" fill="#231f20"/>
<text x="1751.2" y="1250.6" font-size="23" text-anchor="middle" textLength="14.5" lengthAdjust="spacingAndGlyphs">0</text>
<circle cx="1720.6" cy="1270.5" r="7.3" fill="#231f20"/>
<text x="1751.2" y="1275.8" font-size="23" text-anchor="middle" textLength="13" lengthAdjust="spacingAndGlyphs">5</text>
<circle cx="1720.6" cy="1295.8" r="9.1" fill="#231f20"/>
<text x="1751.2" y="1301.6" font-size="23" text-anchor="middle" textLength="29" lengthAdjust="spacingAndGlyphs">10</text>
<circle cx="1720.6" cy="1321.5" r="10.6" fill="#231f20"/>
<text x="1751.2" y="1327.6" font-size="23" text-anchor="middle" textLength="26" lengthAdjust="spacingAndGlyphs">15</text>
<circle cx="1910.8" cy="1209.8" r="8.1" fill="#3c7c5f"/>
<circle cx="1895.85" cy="1224.7" r="9.2" fill="#3e7d60"/>
<circle cx="1925.75" cy="1224.7" r="3.3" fill="#4d876c"/>
<circle cx="1880.9" cy="1239.6" r="7" fill="#40805f"/>
<circle cx="1910.8" cy="1239.6" r="5.6" fill="#5a8f76"/>
<circle cx="1940.7" cy="1239.6" r="7.8" fill="#5a8f76"/>
<circle cx="1865.95" cy="1254.5" r="9.4" fill="#4c886b"/>
<circle cx="1895.85" cy="1254.5" r="2.7" fill="#65977f"/>
<circle cx="1925.75" cy="1254.5" r="7.3" fill="#65977f"/>
<circle cx="1955.65" cy="1254.5" r="7.3" fill="#65977f"/>
<circle cx="1851" cy="1269.4" r="5.6" fill="#709d87"/>
<circle cx="1880.9" cy="1269.4" r="4.7" fill="#709d87"/>
<circle cx="1910.8" cy="1269.4" r="5.6" fill="#709d87"/>
<circle cx="1940.7" cy="1269.4" r="7.4" fill="#709d87"/>
<circle cx="1970.6" cy="1269.4" r="4.7" fill="#709d87"/>
<circle cx="1836.05" cy="1284.3" r="2.5" fill="#79a48f"/>
<circle cx="1865.95" cy="1284.3" r="1.5" fill="#a4bcaf"/>
<circle cx="1895.85" cy="1284.3" r="8.3" fill="#93b2a1"/>
<circle cx="1925.75" cy="1284.3" r="5.6" fill="#79a48f"/>
<circle cx="1955.65" cy="1284.3" r="6.3" fill="#79a48f"/>
<circle cx="1985.55" cy="1284.3" r="3.8" fill="#79a48f"/>
<circle cx="1821.1" cy="1299.2" r="7.4" fill="#83aa96"/>
<circle cx="1851" cy="1299.2" r="1.5" fill="#a9beb2"/>
<circle cx="1880.9" cy="1299.2" r="3.4" fill="#83aa96"/>
<circle cx="1910.8" cy="1299.2" r="8.3" fill="#94b3a2"/>
<circle cx="1940.7" cy="1299.2" r="3.8" fill="#83aa96"/>
<circle cx="1970.6" cy="1299.2" r="5.6" fill="#83aa96"/>
<circle cx="2000.5" cy="1299.2" r="6.5" fill="#83aa96"/>
<circle cx="1806.15" cy="1314.1" r="9.5" fill="#6f9d85"/>
<circle cx="1836.05" cy="1314.1" r="2.5" fill="#8baf9d"/>
<circle cx="1865.95" cy="1314.1" r="1.3" fill="#adc1b6"/>
<circle cx="1895.85" cy="1314.1" r="3.4" fill="#8baf9d"/>
<circle cx="1925.75" cy="1314.1" r="6" fill="#8baf9d"/>
<circle cx="1955.65" cy="1314.1" r="2.7" fill="#8baf9d"/>
<circle cx="1985.55" cy="1314.1" r="6.3" fill="#8baf9d"/>
<circle cx="2015.45" cy="1314.1" r="1.3" fill="#adc1b6"/>
<circle cx="1791.2" cy="1329" r="3.1" fill="#94b5a4"/>
<circle cx="1821.1" cy="1329" r="3.1" fill="#94b5a4"/>
<circle cx="1851" cy="1329" r="5.6" fill="#94b5a4"/>
<circle cx="1880.9" cy="1329" r="1.3" fill="#b1c4b9"/>
<circle cx="1910.8" cy="1329" r="1.3" fill="#b1c4b9"/>
<circle cx="1940.7" cy="1329" r="5" fill="#94b5a4"/>
<circle cx="1970.6" cy="1329" r="4.5" fill="#94b5a4"/>
<circle cx="2000.5" cy="1329" r="4" fill="#94b5a4"/>
<circle cx="2030.4" cy="1329" r="1.3" fill="#b1c4b9"/>
<circle cx="1776.25" cy="1343.9" r="4.2" fill="#9cbaab"/>
<circle cx="1806.15" cy="1343.9" r="1.3" fill="#b5c7bd"/>
<circle cx="1836.05" cy="1343.9" r="10.5" fill="#b3c8bb"/>
<circle cx="1865.95" cy="1343.9" r="5.4" fill="#9cbaab"/>
<circle cx="1895.85" cy="1343.9" r="1.3" fill="#b5c7bd"/>
<circle cx="1925.75" cy="1343.9" r="1.3" fill="#b5c7bd"/>
<circle cx="1955.65" cy="1343.9" r="7.9" fill="#a5bfb0"/>
<circle cx="1985.55" cy="1343.9" r="1.3" fill="#b5c7bd"/>
<circle cx="2015.45" cy="1343.9" r="3.1" fill="#9cbaab"/>
<circle cx="2045.35" cy="1343.9" r="1.3" fill="#b5c7bd"/>
<circle cx="1761.3" cy="1358.8" r="3" fill="#a4bfb1"/>
<circle cx="1791.2" cy="1358.8" r="1.3" fill="#bac9c0"/>
<circle cx="1821.1" cy="1358.8" r="1.3" fill="#bac9c0"/>
<circle cx="1851" cy="1358.8" r="8.5" fill="#afc5b8"/>
<circle cx="1880.9" cy="1358.8" r="3.4" fill="#a4bfb1"/>
<circle cx="1910.8" cy="1358.8" r="1.3" fill="#bac9c0"/>
<circle cx="1940.7" cy="1358.8" r="1.3" fill="#bac9c0"/>
<circle cx="1970.6" cy="1358.8" r="2.5" fill="#a4bfb1"/>
<circle cx="2000.5" cy="1358.8" r="1.3" fill="#bac9c0"/>
<circle cx="2030.4" cy="1358.8" r="1.3" fill="#bac9c0"/>
<circle cx="2060.3" cy="1358.8" r="1.3" fill="#bac9c0"/>
<circle cx="1746.35" cy="1373.7" r="5.6" fill="#a6c0b0"/>
<circle cx="1776.25" cy="1373.7" r="1.3" fill="#beccc4"/>
<circle cx="1806.15" cy="1373.7" r="1.3" fill="#beccc4"/>
<circle cx="1836.05" cy="1373.7" r="1.3" fill="#beccc4"/>
<circle cx="1865.95" cy="1373.7" r="4.5" fill="#a9c2b3"/>
<circle cx="1895.85" cy="1373.7" r="1.3" fill="#beccc4"/>
<circle cx="1925.75" cy="1373.7" r="1.3" fill="#beccc4"/>
<circle cx="1955.65" cy="1373.7" r="1.3" fill="#beccc4"/>
<circle cx="1985.55" cy="1373.7" r="1.3" fill="#beccc4"/>
<circle cx="2015.45" cy="1373.7" r="1.3" fill="#beccc4"/>
<circle cx="2045.35" cy="1373.7" r="3.6" fill="#b6cbbe"/>
<circle cx="2075.25" cy="1373.7" r="1.3" fill="#beccc4"/>
<circle cx="1731.4" cy="1388.6" r="1.5" fill="#c2cfc7"/>
<circle cx="1761.3" cy="1388.6" r="1.3" fill="#c2cfc7"/>
<circle cx="1791.2" cy="1388.6" r="1.3" fill="#c2cfc7"/>
<circle cx="1821.1" cy="1388.6" r="1.3" fill="#c2cfc7"/>
<circle cx="1851" cy="1388.6" r="1.3" fill="#c2cfc7"/>
<circle cx="1880.9" cy="1388.6" r="2.7" fill="#b4c9bd"/>
<circle cx="1910.8" cy="1388.6" r="3.8" fill="#bccdc3"/>
<circle cx="1940.7" cy="1388.6" r="1.3" fill="#c2cfc7"/>
<circle cx="1970.6" cy="1388.6" r="1.3" fill="#c2cfc7"/>
<circle cx="2000.5" cy="1388.6" r="1.3" fill="#c2cfc7"/>
<circle cx="2030.4" cy="1388.6" r="1.3" fill="#c2cfc7"/>
<circle cx="2060.3" cy="1388.6" r="1.3" fill="#c2cfc7"/>
<circle cx="2090.2" cy="1388.6" r="1.3" fill="#c2cfc7"/>
<circle cx="1716.45" cy="1403.5" r="2.7" fill="#bccec3"/>
<circle cx="1746.35" cy="1403.5" r="1.3" fill="#c6d2cb"/>
<circle cx="1776.25" cy="1403.5" r="5" fill="#dde3df"/>
<circle cx="1806.15" cy="1403.5" r="1.3" fill="#c6d2cb"/>
<circle cx="1836.05" cy="1403.5" r="1.3" fill="#c6d2cb"/>
<circle cx="1865.95" cy="1403.5" r="1.3" fill="#c6d2cb"/>
<circle cx="1895.85" cy="1403.5" r="7.9" fill="#cad6cf"/>
<circle cx="1925.75" cy="1403.5" r="1.3" fill="#c6d2cb"/>
<circle cx="1955.65" cy="1403.5" r="1.3" fill="#c6d2cb"/>
<circle cx="1985.55" cy="1403.5" r="1.3" fill="#c6d2cb"/>
<circle cx="2015.45" cy="1403.5" r="4.3" fill="#cfd9d3"/>
<circle cx="2045.35" cy="1403.5" r="1.3" fill="#c6d2cb"/>
<circle cx="2075.25" cy="1403.5" r="1.3" fill="#c6d2cb"/>
<circle cx="2105.15" cy="1403.5" r="1.3" fill="#c6d2cb"/>
<circle cx="1701.5" cy="1418.4" r="3.4" fill="#b4c8bb"/>
<circle cx="1731.4" cy="1418.4" r="1.3" fill="#cbd4ce"/>
<circle cx="1761.3" cy="1418.4" r="1.3" fill="#cbd4ce"/>
<circle cx="1791.2" cy="1418.4" r="1.3" fill="#cbd4ce"/>
<circle cx="1821.1" cy="1418.4" r="1.3" fill="#cbd4ce"/>
<circle cx="1851" cy="1418.4" r="1.3" fill="#cbd4ce"/>
<circle cx="1880.9" cy="1418.4" r="1.3" fill="#cbd4ce"/>
<circle cx="1910.8" cy="1418.4" r="1.3" fill="#cbd4ce"/>
<circle cx="1940.7" cy="1418.4" r="1.3" fill="#cbd4ce"/>
<circle cx="1970.6" cy="1418.4" r="1.3" fill="#cbd4ce"/>
<circle cx="2000.5" cy="1418.4" r="1.3" fill="#cbd4ce"/>
<circle cx="2030.4" cy="1418.4" r="1.3" fill="#cbd4ce"/>
<circle cx="2060.3" cy="1418.4" r="1.3" fill="#cbd4ce"/>
<circle cx="2090.2" cy="1418.4" r="1.3" fill="#cbd4ce"/>
<circle cx="2120.1" cy="1418.4" r="1.3" fill="#cbd4ce"/>
<circle cx="1686.55" cy="1433.3" r="1.3" fill="#cfd7d2"/>
<circle cx="1716.45" cy="1433.3" r="1.3" fill="#cfd7d2"/>
<circle cx="1746.35" cy="1433.3" r="1.3" fill="#cfd7d2"/>
<circle cx="1776.25" cy="1433.3" r="1.3" fill="#cfd7d2"/>
<circle cx="1806.15" cy="1433.3" r="1.3" fill="#cfd7d2"/>
<circle cx="1836.05" cy="1433.3" r="1.3" fill="#cfd7d2"/>
<circle cx="1865.95" cy="1433.3" r="1.3" fill="#cfd7d2"/>
<circle cx="1895.85" cy="1433.3" r="1.3" fill="#cfd7d2"/>
<circle cx="1925.75" cy="1433.3" r="1.3" fill="#cfd7d2"/>
<circle cx="1955.65" cy="1433.3" r="1.3" fill="#cfd7d2"/>
<circle cx="1985.55" cy="1433.3" r="1.3" fill="#cfd7d2"/>
<circle cx="2015.45" cy="1433.3" r="1.3" fill="#cfd7d2"/>
<circle cx="2045.35" cy="1433.3" r="1.3" fill="#cfd7d2"/>
<circle cx="2075.25" cy="1433.3" r="1.3" fill="#cfd7d2"/>
<circle cx="2105.15" cy="1433.3" r="1.3" fill="#cfd7d2"/>
<circle cx="2135.05" cy="1433.3" r="1.3" fill="#cfd7d2"/>
<circle cx="1671.6" cy="1448.2" r="1.3" fill="#cfd7d2"/>
<circle cx="1701.5" cy="1448.2" r="1.3" fill="#cfd7d2"/>
<circle cx="1731.4" cy="1448.2" r="1.3" fill="#cfd7d2"/>
<circle cx="1761.3" cy="1448.2" r="1.3" fill="#cfd7d2"/>
<circle cx="1791.2" cy="1448.2" r="1.3" fill="#cfd7d2"/>
<circle cx="1821.1" cy="1448.2" r="1.3" fill="#cfd7d2"/>
<circle cx="1851" cy="1448.2" r="1.3" fill="#cfd7d2"/>
<circle cx="1880.9" cy="1448.2" r="1.3" fill="#cfd7d2"/>
<circle cx="1910.8" cy="1448.2" r="1.3" fill="#cfd7d2"/>
<circle cx="1940.7" cy="1448.2" r="1.3" fill="#cfd7d2"/>
<circle cx="1970.6" cy="1448.2" r="1.3" fill="#cfd7d2"/>
<circle cx="2000.5" cy="1448.2" r="1.3" fill="#cfd7d2"/>
<circle cx="2030.4" cy="1448.2" r="1.3" fill="#cfd7d2"/>
<circle cx="2060.3" cy="1448.2" r="1.3" fill="#cfd7d2"/>
<circle cx="2090.2" cy="1448.2" r="1.3" fill="#cfd7d2"/>
<circle cx="2120.1" cy="1448.2" r="1.3" fill="#cfd7d2"/>
<circle cx="2150.2" cy="1466" r="1.2" fill="#d5dcd8"/>
<path d="M1282,1440 L1300.5,1440 L1297,1434.3 L1309,1440.5 L1309,1444.2 L1282,1444.2 Z" fill="#231f20" />
<text x="1321.9" y="1443" font-size="23" textLength="171.6" lengthAdjust="spacingAndGlyphs"><tspan font-style="italic">POU5F1</tspan> – Exon5</text>
<text x="1521.9" y="1443" font-size="23" textLength="67.4" lengthAdjust="spacingAndGlyphs">3′ UTR</text>
<rect x="1300.6" y="1450.4" width="174" height="16.6" fill="#808285" rx="7"/>
<rect x="1472.8" y="1450.4" width="121.8" height="16.6" fill="#d1d3d4" rx="7"/>
<rect x="1357" y="1450.4" width="7" height="16.6" fill="#a87d52"/>
<rect x="1374.7" y="1450.4" width="5.5" height="16.6" fill="#8dc63f"/>
<rect x="1381.2" y="1450.4" width="6.3" height="16.6" fill="#ed1c24"/>
<rect x="1392" y="1450.4" width="6.7" height="16.6" fill="#8dc63f"/>
<rect x="1398.7" y="1450.4" width="12.6" height="16.6" fill="#a87d52"/>
<rect x="1411.3" y="1450.4" width="6.7" height="16.6" fill="#8dc63f"/>
<rect x="1482.3" y="1450.4" width="6.5" height="16.6" fill="#f9ae42"/>
<rect x="1493.1" y="1450.4" width="6.9" height="16.6" fill="#f9ae42"/>
<rect x="1513.4" y="1450.4" width="13.6" height="16.6" fill="#f9ae42"/>
<rect x="1554.8" y="1450.4" width="7.1" height="16.6" fill="#f9ae42"/>
<rect x="1565.6" y="1450.4" width="6.7" height="16.6" fill="#f9ae42"/>
<rect x="1575.3" y="1450.4" width="6.5" height="16.6" fill="#f9ae42"/>
<path d="M1592,1478.6 L1577,1478.6 L1578,1484.2 L1565.2,1478.6 L1565.2,1474.6 L1592,1474.6 Z" fill="#231f20" />
<line x1="1300.6" y1="1474.1" x2="1598" y2="1603" stroke="#231f20" stroke-width="2.4" stroke-dasharray="8.5 6.5"/>
<line x1="1598.5" y1="1468" x2="1619.4" y2="1481.2" stroke="#231f20" stroke-width="2.4" stroke-dasharray="5 4"/>
<rect x="1621.4" y="1484" width="22.8" height="9.3" fill="#f9ae42"/>
<rect x="1621.4" y="1492.98" width="22.8" height="9.3" fill="#f9ae42"/>
<rect x="1621.4" y="1501.96" width="22.8" height="9.3" fill="#f9ae42"/>
<rect x="1621.4" y="1510.94" width="22.8" height="9.3" fill="#f9ae42"/>
<rect x="1621.4" y="1519.92" width="22.8" height="9.3" fill="#f9ae42"/>
<rect x="1621.4" y="1528.9" width="22.8" height="9.3" fill="#f9ae42"/>
<rect x="1621.4" y="1537.88" width="22.8" height="9.3" fill="#f9ae42"/>
<rect x="1621.4" y="1546.86" width="22.8" height="9.3" fill="#8dc63f"/>
<rect x="1621.4" y="1555.84" width="22.8" height="9.3" fill="#a87d52"/>
<rect x="1621.4" y="1564.82" width="22.8" height="9.3" fill="#a87d52"/>
<rect x="1621.4" y="1573.8" width="22.8" height="9.3" fill="#8dc63f"/>
<rect x="1621.4" y="1582.78" width="22.8" height="9.3" fill="#ed1c24"/>
<rect x="1621.4" y="1591.76" width="22.8" height="9.3" fill="#8dc63f"/>
<rect x="1621.4" y="1600.74" width="22.8" height="9.3" fill="#a87d52"/>
<rect x="1656" y="1484" width="227.5" height="9.3" fill="#2f72bc"/>
<rect x="1883.2" y="1484" width="85.5" height="9.3" fill="#62c8d6"/>
<rect x="1968.4" y="1484" width="28.7" height="9.3" fill="#2f72bc"/>
<rect x="1996.8" y="1484" width="57.1" height="9.3" fill="#62c8d6"/>
<rect x="2053.6" y="1484" width="57.1" height="9.3" fill="#2f72bc"/>
<rect x="2110.4" y="1484" width="57.1" height="9.3" fill="#62c8d6"/>
<rect x="1656" y="1492.98" width="57.1" height="9.3" fill="#62c8d6"/>
<rect x="1712.8" y="1492.98" width="28.7" height="9.3" fill="#2f72bc"/>
<rect x="1741.2" y="1492.98" width="28.7" height="9.3" fill="#62c8d6"/>
<rect x="1769.6" y="1492.98" width="28.7" height="9.3" fill="#2f72bc"/>
<rect x="1798" y="1492.98" width="369.5" height="9.3" fill="#62c8d6"/>
<rect x="1656" y="1501.96" width="341.1" height="9.3" fill="#2f72bc"/>
<rect x="1996.8" y="1501.96" width="28.7" height="9.3" fill="#62c8d6"/>
<rect x="2025.2" y="1501.96" width="57.1" height="9.3" fill="#2f72bc"/>
<rect x="2082" y="1501.96" width="28.7" height="9.3" fill="#62c8d6"/>
<rect x="2110.4" y="1501.96" width="57.1" height="9.3" fill="#2f72bc"/>
<rect x="1656" y="1510.94" width="397.9" height="9.3" fill="#2f72bc"/>
<rect x="2053.6" y="1510.94" width="28.7" height="9.3" fill="#62c8d6"/>
<rect x="2082" y="1510.94" width="57.1" height="9.3" fill="#2f72bc"/>
<rect x="2138.8" y="1510.94" width="28.7" height="9.3" fill="#62c8d6"/>
<rect x="1656" y="1519.92" width="28.7" height="9.3" fill="#2f72bc"/>
<rect x="1684.4" y="1519.92" width="28.7" height="9.3" fill="#62c8d6"/>
<rect x="1712.8" y="1519.92" width="85.5" height="9.3" fill="#2f72bc"/>
<rect x="1798" y="1519.92" width="369.5" height="9.3" fill="#62c8d6"/>
<rect x="1656" y="1528.9" width="255.9" height="9.3" fill="#2f72bc"/>
<rect x="1911.6" y="1528.9" width="28.7" height="9.3" fill="#62c8d6"/>
<rect x="1940" y="1528.9" width="28.7" height="9.3" fill="#2f72bc"/>
<rect x="1968.4" y="1528.9" width="57.1" height="9.3" fill="#62c8d6"/>
<rect x="2025.2" y="1528.9" width="57.1" height="9.3" fill="#2f72bc"/>
<rect x="2082" y="1528.9" width="57.1" height="9.3" fill="#62c8d6"/>
<rect x="2138.8" y="1528.9" width="28.7" height="9.3" fill="#2f72bc"/>
<rect x="1656" y="1537.88" width="255.9" height="9.3" fill="#2f72bc"/>
<rect x="1911.6" y="1537.88" width="28.7" height="9.3" fill="#62c8d6"/>
<rect x="1940" y="1537.88" width="28.7" height="9.3" fill="#2f72bc"/>
<rect x="1968.4" y="1537.88" width="57.1" height="9.3" fill="#62c8d6"/>
<rect x="2025.2" y="1537.88" width="57.1" height="9.3" fill="#2f72bc"/>
<rect x="2082" y="1537.88" width="57.1" height="9.3" fill="#62c8d6"/>
<rect x="2138.8" y="1537.88" width="28.7" height="9.3" fill="#2f72bc"/>
<rect x="1656" y="1546.86" width="142.3" height="9.3" fill="#2f72bc"/>
<rect x="1798" y="1546.86" width="28.7" height="9.3" fill="#62c8d6"/>
<rect x="1826.4" y="1546.86" width="28.7" height="9.3" fill="#2f72bc"/>
<rect x="1854.8" y="1546.86" width="28.7" height="9.3" fill="#62c8d6"/>
<rect x="1883.2" y="1546.86" width="28.7" height="9.3" fill="#2f72bc"/>
<rect x="1911.6" y="1546.86" width="57.1" height="9.3" fill="#62c8d6"/>
<rect x="1968.4" y="1546.86" width="28.7" height="9.3" fill="#2f72bc"/>
<rect x="1996.8" y="1546.86" width="57.1" height="9.3" fill="#62c8d6"/>
<rect x="2053.6" y="1546.86" width="57.1" height="9.3" fill="#2f72bc"/>
<rect x="2110.4" y="1546.86" width="57.1" height="9.3" fill="#62c8d6"/>
<rect x="1656" y="1555.84" width="255.9" height="9.3" fill="#2f72bc"/>
<rect x="1911.6" y="1555.84" width="28.7" height="9.3" fill="#62c8d6"/>
<rect x="1940" y="1555.84" width="28.7" height="9.3" fill="#2f72bc"/>
<rect x="1968.4" y="1555.84" width="57.1" height="9.3" fill="#62c8d6"/>
<rect x="2025.2" y="1555.84" width="57.1" height="9.3" fill="#2f72bc"/>
<rect x="2082" y="1555.84" width="57.1" height="9.3" fill="#62c8d6"/>
<rect x="2138.8" y="1555.84" width="28.7" height="9.3" fill="#2f72bc"/>
<rect x="1656" y="1564.82" width="511.5" height="9.3" fill="#2f72bc"/>
<rect x="1656" y="1573.8" width="85.5" height="9.3" fill="#1e8c44"/>
<rect x="1741.2" y="1573.8" width="426.3" height="9.3" fill="#62c8d6"/>
<rect x="1656" y="1582.78" width="142.3" height="9.3" fill="#2f72bc"/>
<rect x="1798" y="1582.78" width="28.7" height="9.3" fill="#62c8d6"/>
<rect x="1826.4" y="1582.78" width="85.5" height="9.3" fill="#2f72bc"/>
<rect x="1911.6" y="1582.78" width="57.1" height="9.3" fill="#62c8d6"/>
<rect x="1968.4" y="1582.78" width="28.7" height="9.3" fill="#2f72bc"/>
<rect x="1996.8" y="1582.78" width="28.7" height="9.3" fill="#62c8d6"/>
<rect x="2025.2" y="1582.78" width="85.5" height="9.3" fill="#2f72bc"/>
<rect x="2110.4" y="1582.78" width="57.1" height="9.3" fill="#62c8d6"/>
<rect x="1656" y="1591.76" width="255.9" height="9.3" fill="#2f72bc"/>
<rect x="1911.6" y="1591.76" width="28.7" height="9.3" fill="#62c8d6"/>
<rect x="1940" y="1591.76" width="28.7" height="9.3" fill="#2f72bc"/>
<rect x="1968.4" y="1591.76" width="57.1" height="9.3" fill="#62c8d6"/>
<rect x="2025.2" y="1591.76" width="57.1" height="9.3" fill="#2f72bc"/>
<rect x="2082" y="1591.76" width="28.7" height="9.3" fill="#62c8d6"/>
<rect x="2110.4" y="1591.76" width="57.1" height="9.3" fill="#2f72bc"/>
<rect x="1656" y="1600.74" width="255.9" height="9.3" fill="#2f72bc"/>
<rect x="1911.6" y="1600.74" width="28.7" height="9.3" fill="#62c8d6"/>
<rect x="1940" y="1600.74" width="28.7" height="9.3" fill="#2f72bc"/>
<rect x="1968.4" y="1600.74" width="57.1" height="9.3" fill="#62c8d6"/>
<rect x="2025.2" y="1600.74" width="57.1" height="9.3" fill="#2f72bc"/>
<rect x="2082" y="1600.74" width="57.1" height="9.3" fill="#62c8d6"/>
<rect x="2138.8" y="1600.74" width="28.7" height="9.3" fill="#2f72bc"/>
<line x1="1712.8" y1="1484" x2="1712.8" y2="1609.7" stroke="#ffffff" stroke-width="0.8" stroke-opacity="0.35"/>
<line x1="1769.6" y1="1484" x2="1769.6" y2="1609.7" stroke="#ffffff" stroke-width="0.8" stroke-opacity="0.35"/>
<line x1="1826.4" y1="1484" x2="1826.4" y2="1609.7" stroke="#ffffff" stroke-width="0.8" stroke-opacity="0.35"/>
<line x1="1854.8" y1="1484" x2="1854.8" y2="1609.7" stroke="#ffffff" stroke-width="0.8" stroke-opacity="0.35"/>
<line x1="1911.6" y1="1484" x2="1911.6" y2="1609.7" stroke="#ffffff" stroke-width="0.8" stroke-opacity="0.35"/>
<line x1="1968.4" y1="1484" x2="1968.4" y2="1609.7" stroke="#ffffff" stroke-width="0.8" stroke-opacity="0.35"/>
<line x1="1996.8" y1="1484" x2="1996.8" y2="1609.7" stroke="#ffffff" stroke-width="0.8" stroke-opacity="0.35"/>
<line x1="2053.6" y1="1484" x2="2053.6" y2="1609.7" stroke="#ffffff" stroke-width="0.8" stroke-opacity="0.35"/>
<line x1="2110.4" y1="1484" x2="2110.4" y2="1609.7" stroke="#ffffff" stroke-width="0.8" stroke-opacity="0.35"/>
<line x1="2138.8" y1="1484" x2="2138.8" y2="1609.7" stroke="#ffffff" stroke-width="0.8" stroke-opacity="0.35"/>
</svg>
</body></html>
